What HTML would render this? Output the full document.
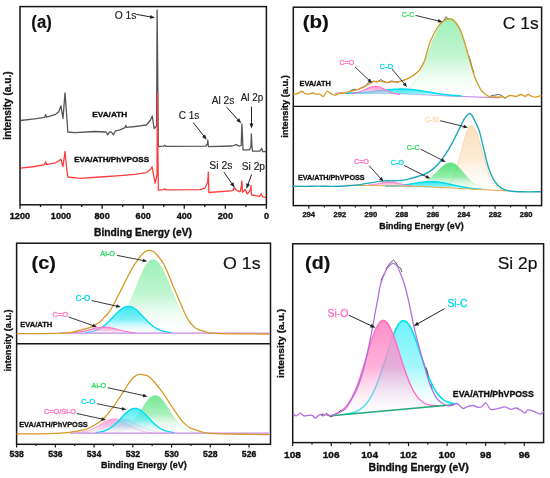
<!DOCTYPE html><html><head><meta charset="utf-8"><style>html,body{margin:0;padding:0;background:#fff;width:550px;height:478px;overflow:hidden}svg{display:block;will-change:transform}</style></head><body><svg width="550" height="478" viewBox="0 0 550 478"><defs><linearGradient id="g1" gradientUnits="userSpaceOnUse" x1="0" y1="18.2" x2="0" y2="97.5"><stop offset="0" stop-color="#a0f0b8" stop-opacity="1.0"/><stop offset="0.5" stop-color="#a0f0b8" stop-opacity="0.612"/><stop offset="1" stop-color="#ffffff" stop-opacity="0.03"/></linearGradient><linearGradient id="g2" gradientUnits="userSpaceOnUse" x1="0" y1="89.1" x2="0" y2="96.4"><stop offset="0" stop-color="#20e6f4" stop-opacity="0.85"/><stop offset="0.5" stop-color="#20e6f4" stop-opacity="0.590"/><stop offset="1" stop-color="#ffffff" stop-opacity="0.2"/></linearGradient><linearGradient id="g3" gradientUnits="userSpaceOnUse" x1="0" y1="86.4" x2="0" y2="94.7"><stop offset="0" stop-color="#ff8ccc" stop-opacity="0.85"/><stop offset="0.5" stop-color="#ff8ccc" stop-opacity="0.590"/><stop offset="1" stop-color="#ffffff" stop-opacity="0.2"/></linearGradient><linearGradient id="g4" gradientUnits="userSpaceOnUse" x1="0" y1="125.4" x2="0" y2="190.9"><stop offset="0" stop-color="#fbdfba" stop-opacity="0.95"/><stop offset="0.5" stop-color="#fbdfba" stop-opacity="0.618"/><stop offset="1" stop-color="#ffffff" stop-opacity="0.12"/></linearGradient><linearGradient id="g5" gradientUnits="userSpaceOnUse" x1="0" y1="162.7" x2="0" y2="190.5"><stop offset="0" stop-color="#58e27c" stop-opacity="1.0"/><stop offset="0.5" stop-color="#58e27c" stop-opacity="0.640"/><stop offset="1" stop-color="#ffffff" stop-opacity="0.1"/></linearGradient><linearGradient id="g6" gradientUnits="userSpaceOnUse" x1="0" y1="181.7" x2="0" y2="189.8"><stop offset="0" stop-color="#20e6f4" stop-opacity="0.85"/><stop offset="0.5" stop-color="#20e6f4" stop-opacity="0.590"/><stop offset="1" stop-color="#ffffff" stop-opacity="0.2"/></linearGradient><linearGradient id="g7" gradientUnits="userSpaceOnUse" x1="0" y1="182.0" x2="0" y2="186.3"><stop offset="0" stop-color="#ff8ccc" stop-opacity="0.85"/><stop offset="0.5" stop-color="#ff8ccc" stop-opacity="0.590"/><stop offset="1" stop-color="#ffffff" stop-opacity="0.2"/></linearGradient><linearGradient id="g8" gradientUnits="userSpaceOnUse" x1="0" y1="259.5" x2="0" y2="332.8"><stop offset="0" stop-color="#9cf0b6" stop-opacity="1.0"/><stop offset="0.5" stop-color="#9cf0b6" stop-opacity="0.608"/><stop offset="1" stop-color="#ffffff" stop-opacity="0.02"/></linearGradient><linearGradient id="g9" gradientUnits="userSpaceOnUse" x1="0" y1="306.4" x2="0" y2="333.0"><stop offset="0" stop-color="#20e6f4" stop-opacity="0.85"/><stop offset="0.5" stop-color="#20e6f4" stop-opacity="0.550"/><stop offset="1" stop-color="#ffffff" stop-opacity="0.1"/></linearGradient><linearGradient id="g10" gradientUnits="userSpaceOnUse" x1="0" y1="327.0" x2="0" y2="333.0"><stop offset="0" stop-color="#ff8ccc" stop-opacity="0.8"/><stop offset="0.5" stop-color="#ff8ccc" stop-opacity="0.560"/><stop offset="1" stop-color="#ffffff" stop-opacity="0.2"/></linearGradient><linearGradient id="g11" gradientUnits="userSpaceOnUse" x1="0" y1="395.4" x2="0" y2="433.0"><stop offset="0" stop-color="#6ee68e" stop-opacity="0.95"/><stop offset="0.5" stop-color="#6ee68e" stop-opacity="0.590"/><stop offset="1" stop-color="#ffffff" stop-opacity="0.05"/></linearGradient><linearGradient id="g12" gradientUnits="userSpaceOnUse" x1="0" y1="418.8" x2="0" y2="433.0"><stop offset="0" stop-color="#ff8ccc" stop-opacity="0.8"/><stop offset="0.5" stop-color="#ff8ccc" stop-opacity="0.540"/><stop offset="1" stop-color="#ffffff" stop-opacity="0.15"/></linearGradient><linearGradient id="g13" gradientUnits="userSpaceOnUse" x1="0" y1="419.1" x2="0" y2="433.0"><stop offset="0" stop-color="#d8cce2" stop-opacity="0.8"/><stop offset="0.5" stop-color="#d8cce2" stop-opacity="0.560"/><stop offset="1" stop-color="#ffffff" stop-opacity="0.2"/></linearGradient><linearGradient id="g14" gradientUnits="userSpaceOnUse" x1="0" y1="408.4" x2="0" y2="432.9"><stop offset="0" stop-color="#20e6f4" stop-opacity="0.75"/><stop offset="0.5" stop-color="#20e6f4" stop-opacity="0.490"/><stop offset="1" stop-color="#ffffff" stop-opacity="0.1"/></linearGradient><linearGradient id="g15" gradientUnits="userSpaceOnUse" x1="0" y1="320.7" x2="0" y2="414.2"><stop offset="0" stop-color="#40eef8" stop-opacity="0.75"/><stop offset="0.5" stop-color="#40eef8" stop-opacity="0.470"/><stop offset="1" stop-color="#ffffff" stop-opacity="0.05"/></linearGradient><linearGradient id="g16" gradientUnits="userSpaceOnUse" x1="0" y1="320.4" x2="0" y2="413.9"><stop offset="0" stop-color="#ff90ca" stop-opacity="1.0"/><stop offset="0.5" stop-color="#ff90ca" stop-opacity="0.700"/><stop offset="1" stop-color="#ffffff" stop-opacity="0.25"/></linearGradient></defs><rect width="550" height="478" fill="#fff"/>
<rect x="20.00" y="6.60" width="246.40" height="198.20" fill="none" stroke="#161616" stroke-width="1.50"/>
<line x1="20.00" y1="204.80" x2="20.00" y2="208.80" stroke="#161616" stroke-width="1.30"/>
<line x1="61.07" y1="204.80" x2="61.07" y2="208.80" stroke="#161616" stroke-width="1.30"/>
<line x1="102.13" y1="204.80" x2="102.13" y2="208.80" stroke="#161616" stroke-width="1.30"/>
<line x1="143.20" y1="204.80" x2="143.20" y2="208.80" stroke="#161616" stroke-width="1.30"/>
<line x1="184.27" y1="204.80" x2="184.27" y2="208.80" stroke="#161616" stroke-width="1.30"/>
<line x1="225.33" y1="204.80" x2="225.33" y2="208.80" stroke="#161616" stroke-width="1.30"/>
<line x1="266.40" y1="204.80" x2="266.40" y2="208.80" stroke="#161616" stroke-width="1.30"/>
<line x1="40.53" y1="204.80" x2="40.53" y2="207.00" stroke="#161616" stroke-width="1.30"/>
<line x1="81.60" y1="204.80" x2="81.60" y2="207.00" stroke="#161616" stroke-width="1.30"/>
<line x1="122.67" y1="204.80" x2="122.67" y2="207.00" stroke="#161616" stroke-width="1.30"/>
<line x1="163.73" y1="204.80" x2="163.73" y2="207.00" stroke="#161616" stroke-width="1.30"/>
<line x1="204.80" y1="204.80" x2="204.80" y2="207.00" stroke="#161616" stroke-width="1.30"/>
<line x1="245.87" y1="204.80" x2="245.87" y2="207.00" stroke="#161616" stroke-width="1.30"/>
<text x="9.80" y="219.30" font-size="9.20" font-weight="bold" fill="#111" font-family="Liberation Sans, sans-serif" textLength="20.26" lengthAdjust="spacingAndGlyphs" stroke="#111" stroke-width="0.35">1200</text>
<text x="50.87" y="219.30" font-size="9.20" font-weight="bold" fill="#111" font-family="Liberation Sans, sans-serif" textLength="20.26" lengthAdjust="spacingAndGlyphs" stroke="#111" stroke-width="0.35">1000</text>
<text x="94.57" y="219.30" font-size="9.20" font-weight="bold" fill="#111" font-family="Liberation Sans, sans-serif" textLength="15.20" lengthAdjust="spacingAndGlyphs" stroke="#111" stroke-width="0.35">800</text>
<text x="135.59" y="219.30" font-size="9.20" font-weight="bold" fill="#111" font-family="Liberation Sans, sans-serif" textLength="15.20" lengthAdjust="spacingAndGlyphs" stroke="#111" stroke-width="0.35">600</text>
<text x="176.75" y="219.30" font-size="9.20" font-weight="bold" fill="#111" font-family="Liberation Sans, sans-serif" textLength="15.20" lengthAdjust="spacingAndGlyphs" stroke="#111" stroke-width="0.35">400</text>
<text x="217.77" y="219.30" font-size="9.20" font-weight="bold" fill="#111" font-family="Liberation Sans, sans-serif" textLength="15.20" lengthAdjust="spacingAndGlyphs" stroke="#111" stroke-width="0.35">200</text>
<text x="263.90" y="219.30" font-size="9.20" font-weight="bold" fill="#111" font-family="Liberation Sans, sans-serif" textLength="5.07" lengthAdjust="spacingAndGlyphs" stroke="#111" stroke-width="0.35">0</text>
<text x="94.08" y="235.80" font-size="10.60" font-weight="bold" fill="#111" font-family="Liberation Sans, sans-serif" textLength="97.89" lengthAdjust="spacingAndGlyphs" stroke="#111" stroke-width="0.35" stroke-linejoin="round">Binding Energy (eV)</text>
<text x="0" y="0" transform="translate(11.30,139.00) rotate(-90)" font-size="10.00" font-weight="bold" fill="#111" font-family="Liberation Sans, sans-serif" textLength="68.29" lengthAdjust="spacingAndGlyphs" stroke="#111" stroke-width="0.30" dx="-0.71">intensity (a.u.)</text>
<text x="31.37" y="27.89" font-size="18.62" font-weight="bold" fill="#111" font-family="Liberation Sans, sans-serif" textLength="20.41" lengthAdjust="spacingAndGlyphs" stroke="#111" stroke-width="0.20">(a)</text>
<path d="M20.50,120.50 L34.70,118.90 L44.50,117.40 L45.60,114.70 L46.60,117.20 L55.60,114.30 L58.80,111.80 L60.90,105.90 L63.00,118.50 L65.00,92.90 L66.30,110.00 L67.80,132.00 L75.00,132.60 L95.00,131.50 L106.00,132.00 L107.70,134.80 L109.50,131.80 L111.50,132.20 L113.40,134.80 L115.50,130.80 L120.00,129.80 L125.00,127.60 L125.80,125.40 L126.60,127.40 L135.00,126.50 L140.00,125.80 L146.30,125.00 L150.50,120.00 L152.30,116.00 L154.10,128.50 L156.60,126.00 L157.10,10.00 L157.60,60.00 L158.30,146.70 L163.50,146.20 L164.70,145.20 L165.80,146.40 L205.80,146.20 L207.40,144.00 L207.80,140.10 L208.40,146.70 L232.00,146.00 L236.30,144.70 L239.10,146.10 L241.20,145.50 L241.90,124.00 L242.50,136.00 L243.00,149.80 L249.50,149.80 L250.90,147.00 L251.40,133.80 L251.90,145.00 L252.50,151.20 L259.80,151.20 L261.70,148.50 L262.70,151.70 L266.00,151.70" fill="none" stroke="#555" stroke-width="1.3" stroke-linejoin="round"/>
<path d="M20.50,168.20 L34.70,166.50 L44.50,164.60 L45.60,161.90 L46.60,164.40 L55.60,162.80 L58.80,160.70 L60.90,159.20 L63.00,166.50 L65.00,151.50 L66.30,165.00 L67.80,177.00 L80.00,178.30 L100.00,177.00 L120.00,175.60 L135.00,174.30 L146.30,172.60 L150.50,169.50 L152.10,166.80 L155.10,183.10 L157.00,175.00 L157.50,92.60 L157.90,150.00 L158.40,190.20 L163.50,189.60 L164.70,188.70 L165.80,189.80 L200.00,189.70 L205.00,188.10 L207.70,182.00 L208.30,172.20 L208.90,192.50 L233.00,190.60 L234.00,187.50 L236.70,190.30 L240.10,191.80 L241.40,186.00 L241.90,180.90 L242.50,192.20 L245.30,189.40 L247.20,194.10 L250.50,190.00 L251.00,185.60 L251.50,195.00 L259.80,196.30 L261.30,193.70 L262.70,196.90 L266.00,197.30" fill="none" stroke="#ff3c3c" stroke-width="1.3" stroke-linejoin="round"/>
<text x="92.22" y="117.30" font-size="7.83" font-weight="bold" fill="#111" font-family="Liberation Sans, sans-serif" textLength="35.06" lengthAdjust="spacingAndGlyphs" stroke="#111" stroke-width="0.35" stroke-linejoin="round">EVA/ATH</text>
<text x="74.23" y="162.30" font-size="7.10" font-weight="bold" fill="#111" font-family="Liberation Sans, sans-serif" textLength="74.81" lengthAdjust="spacingAndGlyphs" stroke="#111" stroke-width="0.35" stroke-linejoin="round">EVA/ATH/PhVPOSS</text>
<text x="114.69" y="18.50" font-size="10.20" font-weight="normal" fill="#1a1a1a" font-family="Liberation Sans, sans-serif" textLength="21.74" lengthAdjust="spacingAndGlyphs" stroke="#1a1a1a" stroke-width="0.15" stroke-linejoin="round">O 1s</text>
<line x1="136.30" y1="14.30" x2="151.07" y2="17.06" stroke="#222" stroke-width="1.00"/>
<path d="M155.00,17.80 L149.72,18.85 L150.45,14.91 Z" fill="#222"/>
<text x="178.70" y="118.90" font-size="10.20" font-weight="normal" fill="#1a1a1a" font-family="Liberation Sans, sans-serif" textLength="20.56" lengthAdjust="spacingAndGlyphs" stroke="#1a1a1a" stroke-width="0.15" stroke-linejoin="round">C 1s</text>
<line x1="193.20" y1="122.50" x2="204.23" y2="136.55" stroke="#222" stroke-width="1.00"/>
<path d="M206.70,139.70 L202.04,137.00 L205.19,134.53 Z" fill="#222"/>
<text x="211.70" y="103.50" font-size="10.20" font-weight="normal" fill="#1a1a1a" font-family="Liberation Sans, sans-serif" textLength="22.54" lengthAdjust="spacingAndGlyphs" stroke="#1a1a1a" stroke-width="0.15" stroke-linejoin="round">Al 2s</text>
<line x1="226.50" y1="107.00" x2="238.52" y2="120.33" stroke="#222" stroke-width="1.00"/>
<path d="M241.20,123.30 L236.37,120.93 L239.34,118.25 Z" fill="#222"/>
<text x="240.70" y="101.00" font-size="10.20" font-weight="normal" fill="#1a1a1a" font-family="Liberation Sans, sans-serif" textLength="22.49" lengthAdjust="spacingAndGlyphs" stroke="#1a1a1a" stroke-width="0.15" stroke-linejoin="round">Al 2p</text>
<line x1="251.50" y1="106.70" x2="251.50" y2="124.40" stroke="#222" stroke-width="1.00"/>
<path d="M251.50,128.40 L249.50,123.40 L253.50,123.40 Z" fill="#222"/>
<text x="209.38" y="168.60" font-size="10.20" font-weight="normal" fill="#1a1a1a" font-family="Liberation Sans, sans-serif" textLength="22.96" lengthAdjust="spacingAndGlyphs" stroke="#1a1a1a" stroke-width="0.15" stroke-linejoin="round">Si 2s</text>
<line x1="223.90" y1="172.10" x2="232.32" y2="184.22" stroke="#222" stroke-width="1.00"/>
<path d="M234.60,187.50 L230.10,184.54 L233.39,182.25 Z" fill="#222"/>
<text x="241.79" y="169.70" font-size="10.20" font-weight="normal" fill="#1a1a1a" font-family="Liberation Sans, sans-serif" textLength="23.21" lengthAdjust="spacingAndGlyphs" stroke="#1a1a1a" stroke-width="0.15" stroke-linejoin="round">Si 2p</text>
<line x1="251.60" y1="174.50" x2="247.78" y2="184.94" stroke="#222" stroke-width="1.00"/>
<path d="M246.40,188.70 L246.24,183.32 L250.00,184.69 Z" fill="#222"/>
<rect x="293.30" y="7.20" width="248.30" height="198.40" fill="none" stroke="#161616" stroke-width="1.50"/>
<line x1="293.3" y1="106.4" x2="541.6" y2="106.4" stroke="#161616" stroke-width="1.4"/>
<line x1="308.82" y1="205.60" x2="308.82" y2="208.80" stroke="#161616" stroke-width="1.20"/>
<line x1="339.86" y1="205.60" x2="339.86" y2="208.80" stroke="#161616" stroke-width="1.20"/>
<line x1="370.89" y1="205.60" x2="370.89" y2="208.80" stroke="#161616" stroke-width="1.20"/>
<line x1="401.93" y1="205.60" x2="401.93" y2="208.80" stroke="#161616" stroke-width="1.20"/>
<line x1="432.97" y1="205.60" x2="432.97" y2="208.80" stroke="#161616" stroke-width="1.20"/>
<line x1="464.01" y1="205.60" x2="464.01" y2="208.80" stroke="#161616" stroke-width="1.20"/>
<line x1="495.04" y1="205.60" x2="495.04" y2="208.80" stroke="#161616" stroke-width="1.20"/>
<line x1="526.08" y1="205.60" x2="526.08" y2="208.80" stroke="#161616" stroke-width="1.20"/>
<line x1="324.34" y1="205.60" x2="324.34" y2="207.40" stroke="#161616" stroke-width="1.20"/>
<line x1="355.38" y1="205.60" x2="355.38" y2="207.40" stroke="#161616" stroke-width="1.20"/>
<line x1="386.41" y1="205.60" x2="386.41" y2="207.40" stroke="#161616" stroke-width="1.20"/>
<line x1="417.45" y1="205.60" x2="417.45" y2="207.40" stroke="#161616" stroke-width="1.20"/>
<line x1="448.49" y1="205.60" x2="448.49" y2="207.40" stroke="#161616" stroke-width="1.20"/>
<line x1="479.53" y1="205.60" x2="479.53" y2="207.40" stroke="#161616" stroke-width="1.20"/>
<line x1="510.56" y1="205.60" x2="510.56" y2="207.40" stroke="#161616" stroke-width="1.20"/>
<text x="302.40" y="216.70" font-size="8.00" font-weight="bold" fill="#111" font-family="Liberation Sans, sans-serif" textLength="12.68" lengthAdjust="spacingAndGlyphs" stroke="#111" stroke-width="0.35">294</text>
<text x="333.55" y="216.70" font-size="8.00" font-weight="bold" fill="#111" font-family="Liberation Sans, sans-serif" textLength="12.68" lengthAdjust="spacingAndGlyphs" stroke="#111" stroke-width="0.35">292</text>
<text x="364.59" y="216.70" font-size="8.00" font-weight="bold" fill="#111" font-family="Liberation Sans, sans-serif" textLength="12.68" lengthAdjust="spacingAndGlyphs" stroke="#111" stroke-width="0.35">290</text>
<text x="395.59" y="216.70" font-size="8.00" font-weight="bold" fill="#111" font-family="Liberation Sans, sans-serif" textLength="12.68" lengthAdjust="spacingAndGlyphs" stroke="#111" stroke-width="0.35">288</text>
<text x="426.66" y="216.70" font-size="8.00" font-weight="bold" fill="#111" font-family="Liberation Sans, sans-serif" textLength="12.68" lengthAdjust="spacingAndGlyphs" stroke="#111" stroke-width="0.35">286</text>
<text x="457.58" y="216.70" font-size="8.00" font-weight="bold" fill="#111" font-family="Liberation Sans, sans-serif" textLength="12.68" lengthAdjust="spacingAndGlyphs" stroke="#111" stroke-width="0.35">284</text>
<text x="488.74" y="216.70" font-size="8.00" font-weight="bold" fill="#111" font-family="Liberation Sans, sans-serif" textLength="12.68" lengthAdjust="spacingAndGlyphs" stroke="#111" stroke-width="0.35">282</text>
<text x="519.77" y="216.70" font-size="8.00" font-weight="bold" fill="#111" font-family="Liberation Sans, sans-serif" textLength="12.68" lengthAdjust="spacingAndGlyphs" stroke="#111" stroke-width="0.35">280</text>
<text x="379.28" y="228.90" font-size="9.50" font-weight="bold" fill="#111" font-family="Liberation Sans, sans-serif" textLength="84.33" lengthAdjust="spacingAndGlyphs" stroke="#111" stroke-width="0.35" stroke-linejoin="round">Binding Energy (eV)</text>
<text x="0" y="0" transform="translate(288.40,137.10) rotate(-90)" font-size="9.20" font-weight="bold" fill="#111" font-family="Liberation Sans, sans-serif" textLength="62.49" lengthAdjust="spacingAndGlyphs" stroke="#111" stroke-width="0.30" dx="-0.65">intensity (a.u.)</text>
<text x="302.77" y="28.44" font-size="18.40" font-weight="bold" fill="#111" font-family="Liberation Sans, sans-serif" textLength="26.19" lengthAdjust="spacingAndGlyphs" stroke="#111" stroke-width="0.20">(b)</text>
<text x="502.73" y="28.70" font-size="17.30" font-weight="normal" fill="#111" font-family="Liberation Sans, sans-serif" textLength="35.91" lengthAdjust="spacingAndGlyphs" stroke="#111" stroke-width="0.20" stroke-linejoin="round">C 1s</text>
<path d="M335.00,93.20 L400.00,93.50 L449.00,96.00 L495.00,97.60 L500.00,97.60" fill="none" stroke="#c58be8" stroke-width="1.2"/>
<path d="M400.00,92.11 L400.50,92.00 L401.00,91.88 L401.50,91.75 L402.00,91.61 L402.50,91.45 L403.00,91.29 L403.50,91.11 L404.00,90.91 L404.50,90.70 L405.00,90.47 L405.50,90.23 L406.00,89.96 L406.50,89.68 L407.00,89.38 L407.50,89.06 L408.00,88.72 L408.50,88.36 L409.00,87.98 L409.50,87.57 L410.00,87.13 L410.50,86.68 L411.00,86.19 L411.50,85.69 L412.00,85.15 L412.50,84.59 L413.00,83.99 L413.50,83.37 L414.00,82.72 L414.50,82.05 L415.00,81.34 L415.50,80.60 L416.00,79.83 L416.50,79.03 L417.00,78.20 L417.50,77.34 L418.00,76.44 L418.50,75.52 L419.00,74.57 L419.50,73.59 L420.00,72.57 L420.50,71.53 L421.00,70.47 L421.50,69.37 L422.00,68.25 L422.50,67.10 L423.00,65.93 L423.50,64.74 L424.00,63.52 L424.50,62.28 L425.00,61.03 L425.50,59.76 L426.00,58.47 L426.50,57.17 L427.00,55.86 L427.50,54.53 L428.00,53.20 L428.50,51.87 L429.00,50.53 L429.50,49.19 L430.00,47.85 L430.50,46.51 L431.00,45.18 L431.50,43.86 L432.00,42.55 L432.50,41.26 L433.00,39.98 L433.50,38.71 L434.00,37.47 L434.50,36.25 L435.00,35.06 L435.50,33.89 L436.00,32.75 L436.50,31.64 L437.00,30.57 L437.50,29.54 L438.00,28.54 L438.50,27.58 L439.00,26.66 L439.50,25.79 L440.00,24.95 L440.50,24.17 L441.00,23.43 L441.50,22.74 L442.00,22.10 L442.50,21.50 L443.00,20.96 L443.50,20.47 L444.00,20.02 L444.50,19.63 L445.00,19.29 L445.50,18.99 L446.00,18.75 L446.50,18.55 L447.00,18.40 L447.50,18.30 L448.00,18.23 L448.50,18.21 L449.00,18.21 L449.50,18.24 L450.00,18.27 L450.50,18.33 L451.00,18.41 L451.50,18.52 L452.00,18.66 L452.50,18.84 L453.00,19.07 L453.50,19.35 L454.00,19.68 L454.50,20.06 L455.00,20.50 L455.50,21.00 L456.00,21.57 L456.50,22.20 L457.00,22.90 L457.50,23.67 L458.00,24.50 L458.50,25.41 L459.00,26.39 L459.50,27.44 L460.00,28.55 L460.50,29.74 L461.00,30.99 L461.50,32.31 L462.00,33.69 L462.50,35.13 L463.00,36.63 L463.50,38.18 L464.00,39.78 L464.50,41.42 L465.00,43.11 L465.50,44.83 L466.00,46.58 L466.50,48.36 L467.00,50.16 L467.50,51.97 L468.00,53.80 L468.50,55.63 L469.00,57.46 L469.50,59.28 L470.00,61.09 L470.50,62.88 L471.00,64.65 L471.50,66.39 L472.00,68.10 L472.50,69.77 L473.00,71.41 L473.50,73.00 L474.00,74.54 L474.50,76.03 L475.00,77.47 L475.50,78.86 L476.00,80.19 L476.50,81.46 L477.00,82.67 L477.50,83.82 L478.00,84.91 L478.50,85.94 L479.00,86.91 L479.50,87.83 L480.00,88.68 L480.50,89.48 L481.00,90.22 L481.50,90.92 L482.00,91.56 L482.50,92.15 L483.00,92.69 L483.50,93.19 L484.00,93.65 L484.50,94.07 L485.00,94.45 L485.50,94.79 L486.00,95.11 L486.50,95.39 L487.00,95.65 L487.50,95.88 L488.00,96.09 L488.50,96.27 L489.00,96.44 L489.50,96.59 L490.00,96.72 L490.50,96.84 L491.00,96.94 L491.50,97.04 L492.00,97.12 L492.50,97.20 L493.00,97.27 L493.50,97.33 L494.00,97.39 L494.50,97.44 L495.00,97.48 L495.00,97.60 L400.00,93.50 Z" fill="url(#g1)"/>
<path d="M400.00,92.11 L400.50,92.00 L401.00,91.88 L401.50,91.75 L402.00,91.61 L402.50,91.45 L403.00,91.29 L403.50,91.11 L404.00,90.91 L404.50,90.70 L405.00,90.47 L405.50,90.23 L406.00,89.96 L406.50,89.68 L407.00,89.38 L407.50,89.06 L408.00,88.72 L408.50,88.36 L409.00,87.98 L409.50,87.57 L410.00,87.13 L410.50,86.68 L411.00,86.19 L411.50,85.69 L412.00,85.15 L412.50,84.59 L413.00,83.99 L413.50,83.37 L414.00,82.72 L414.50,82.05 L415.00,81.34 L415.50,80.60 L416.00,79.83 L416.50,79.03 L417.00,78.20 L417.50,77.34 L418.00,76.44 L418.50,75.52 L419.00,74.57 L419.50,73.59 L420.00,72.57 L420.50,71.53 L421.00,70.47 L421.50,69.37 L422.00,68.25 L422.50,67.10 L423.00,65.93 L423.50,64.74 L424.00,63.52 L424.50,62.28 L425.00,61.03 L425.50,59.76 L426.00,58.47 L426.50,57.17 L427.00,55.86 L427.50,54.53 L428.00,53.20 L428.50,51.87 L429.00,50.53 L429.50,49.19 L430.00,47.85 L430.50,46.51 L431.00,45.18 L431.50,43.86 L432.00,42.55 L432.50,41.26 L433.00,39.98 L433.50,38.71 L434.00,37.47 L434.50,36.25 L435.00,35.06 L435.50,33.89 L436.00,32.75 L436.50,31.64 L437.00,30.57 L437.50,29.54 L438.00,28.54 L438.50,27.58 L439.00,26.66 L439.50,25.79 L440.00,24.95 L440.50,24.17 L441.00,23.43 L441.50,22.74 L442.00,22.10 L442.50,21.50 L443.00,20.96 L443.50,20.47 L444.00,20.02 L444.50,19.63 L445.00,19.29 L445.50,18.99 L446.00,18.75 L446.50,18.55 L447.00,18.40 L447.50,18.30 L448.00,18.23 L448.50,18.21 L449.00,18.21 L449.50,18.24 L450.00,18.27 L450.50,18.33 L451.00,18.41 L451.50,18.52 L452.00,18.66 L452.50,18.84 L453.00,19.07 L453.50,19.35 L454.00,19.68 L454.50,20.06 L455.00,20.50 L455.50,21.00 L456.00,21.57 L456.50,22.20 L457.00,22.90 L457.50,23.67 L458.00,24.50 L458.50,25.41 L459.00,26.39 L459.50,27.44 L460.00,28.55 L460.50,29.74 L461.00,30.99 L461.50,32.31 L462.00,33.69 L462.50,35.13 L463.00,36.63 L463.50,38.18 L464.00,39.78 L464.50,41.42 L465.00,43.11 L465.50,44.83 L466.00,46.58 L466.50,48.36 L467.00,50.16 L467.50,51.97 L468.00,53.80 L468.50,55.63 L469.00,57.46 L469.50,59.28 L470.00,61.09 L470.50,62.88 L471.00,64.65 L471.50,66.39 L472.00,68.10 L472.50,69.77 L473.00,71.41 L473.50,73.00 L474.00,74.54 L474.50,76.03 L475.00,77.47 L475.50,78.86 L476.00,80.19 L476.50,81.46 L477.00,82.67 L477.50,83.82 L478.00,84.91 L478.50,85.94 L479.00,86.91 L479.50,87.83 L480.00,88.68 L480.50,89.48 L481.00,90.22 L481.50,90.92 L482.00,91.56 L482.50,92.15 L483.00,92.69 L483.50,93.19 L484.00,93.65 L484.50,94.07 L485.00,94.45 L485.50,94.79 L486.00,95.11 L486.50,95.39 L487.00,95.65 L487.50,95.88 L488.00,96.09 L488.50,96.27 L489.00,96.44 L489.50,96.59 L490.00,96.72 L490.50,96.84 L491.00,96.94 L491.50,97.04 L492.00,97.12" fill="none" stroke="#8ee89a" stroke-width="0.60" stroke-opacity="0.50" stroke-linejoin="round"/>
<path d="M340.00,93.16 L340.50,93.16 L341.00,93.16 L341.50,93.16 L342.00,93.17 L342.50,93.17 L343.00,93.17 L343.50,93.17 L344.00,93.17 L344.50,93.16 L345.00,93.16 L345.50,93.16 L346.00,93.16 L346.50,93.15 L347.00,93.15 L347.50,93.14 L348.00,93.14 L348.50,93.13 L349.00,93.12 L349.50,93.12 L350.00,93.11 L350.50,93.10 L351.00,93.09 L351.50,93.08 L352.00,93.06 L352.50,93.05 L353.00,93.04 L353.50,93.02 L354.00,93.00 L354.50,92.99 L355.00,92.97 L355.50,92.95 L356.00,92.93 L356.50,92.91 L357.00,92.89 L357.50,92.86 L358.00,92.84 L358.50,92.82 L359.00,92.79 L359.50,92.76 L360.00,92.73 L360.50,92.70 L361.00,92.67 L361.50,92.64 L362.00,92.61 L362.50,92.57 L363.00,92.54 L363.50,92.50 L364.00,92.47 L364.50,92.43 L365.00,92.39 L365.50,92.35 L366.00,92.31 L366.50,92.26 L367.00,92.22 L367.50,92.17 L368.00,92.13 L368.50,92.08 L369.00,92.03 L369.50,91.98 L370.00,91.93 L370.50,91.88 L371.00,91.83 L371.50,91.78 L372.00,91.72 L372.50,91.67 L373.00,91.61 L373.50,91.56 L374.00,91.50 L374.50,91.45 L375.00,91.39 L375.50,91.33 L376.00,91.27 L376.50,91.21 L377.00,91.15 L377.50,91.09 L378.00,91.03 L378.50,90.97 L379.00,90.91 L379.50,90.85 L380.00,90.79 L380.50,90.73 L381.00,90.67 L381.50,90.60 L382.00,90.54 L382.50,90.48 L383.00,90.42 L383.50,90.36 L384.00,90.30 L384.50,90.25 L385.00,90.19 L385.50,90.13 L386.00,90.07 L386.50,90.02 L387.00,89.96 L387.50,89.91 L388.00,89.86 L388.50,89.81 L389.00,89.76 L389.50,89.71 L390.00,89.66 L390.50,89.61 L391.00,89.57 L391.50,89.52 L392.00,89.48 L392.50,89.44 L393.00,89.40 L393.50,89.37 L394.00,89.33 L394.50,89.30 L395.00,89.27 L395.50,89.24 L396.00,89.21 L396.50,89.19 L397.00,89.16 L397.50,89.14 L398.00,89.13 L398.50,89.11 L399.00,89.10 L399.50,89.09 L400.00,89.08 L400.50,89.07 L401.00,89.07 L401.50,89.06 L402.00,89.07 L402.50,89.07 L403.00,89.08 L403.50,89.08 L404.00,89.09 L404.50,89.11 L405.00,89.12 L405.50,89.14 L406.00,89.16 L406.50,89.19 L407.00,89.21 L407.50,89.24 L408.00,89.27 L408.50,89.31 L409.00,89.34 L409.50,89.38 L410.00,89.42 L410.50,89.46 L411.00,89.51 L411.50,89.56 L412.00,89.60 L412.50,89.66 L413.00,89.71 L413.50,89.77 L414.00,89.82 L414.50,89.88 L415.00,89.94 L415.50,90.01 L416.00,90.07 L416.50,90.14 L417.00,90.21 L417.50,90.27 L418.00,90.35 L418.50,90.42 L419.00,90.49 L419.50,90.57 L420.00,90.64 L420.50,90.72 L421.00,90.80 L421.50,90.88 L422.00,90.96 L422.50,91.04 L423.00,91.12 L423.50,91.20 L424.00,91.29 L424.50,91.37 L425.00,91.46 L425.50,91.54 L426.00,91.62 L426.50,91.71 L427.00,91.80 L427.50,91.88 L428.00,91.97 L428.50,92.05 L429.00,92.14 L429.50,92.22 L430.00,92.31 L430.50,92.39 L431.00,92.48 L431.50,92.56 L432.00,92.65 L432.50,92.73 L433.00,92.81 L433.50,92.89 L434.00,92.98 L434.50,93.06 L435.00,93.14 L435.50,93.22 L436.00,93.30 L436.50,93.37 L437.00,93.45 L437.50,93.53 L438.00,93.60 L438.50,93.68 L439.00,93.75 L439.50,93.82 L440.00,93.90 L440.50,93.97 L441.00,94.04 L441.50,94.10 L442.00,94.17 L442.50,94.24 L443.00,94.30 L443.50,94.37 L444.00,94.43 L444.50,94.49 L445.00,94.55 L445.50,94.61 L446.00,94.67 L446.50,94.73 L447.00,94.79 L447.50,94.84 L448.00,94.90 L448.50,94.95 L449.00,95.00 L449.50,95.05 L450.00,95.10 L450.50,95.15 L451.00,95.20 L451.50,95.24 L452.00,95.29 L452.50,95.33 L453.00,95.38 L453.50,95.42 L454.00,95.46 L454.50,95.50 L455.00,95.54 L455.50,95.58 L456.00,95.62 L456.50,95.65 L457.00,95.69 L457.50,95.73 L458.00,95.76 L458.50,95.79 L459.00,95.83 L459.50,95.86 L460.00,95.89 L460.50,95.92 L461.00,95.95 L461.50,95.98 L462.00,96.01 L462.50,96.03 L463.00,96.06 L463.50,96.09 L464.00,96.11 L464.50,96.14 L465.00,96.16 L465.50,96.19 L466.00,96.21 L466.50,96.23 L467.00,96.26 L467.50,96.28 L468.00,96.30 L468.50,96.32 L469.00,96.34 L469.50,96.36 L470.00,96.38 L470.00,96.52 L340.00,93.32 Z" fill="url(#g2)"/>
<path d="M346.00,93.16 L346.50,93.15 L347.00,93.15 L347.50,93.14 L348.00,93.14 L348.50,93.13 L349.00,93.12 L349.50,93.12 L350.00,93.11 L350.50,93.10 L351.00,93.09 L351.50,93.08 L352.00,93.06 L352.50,93.05 L353.00,93.04 L353.50,93.02 L354.00,93.00 L354.50,92.99 L355.00,92.97 L355.50,92.95 L356.00,92.93 L356.50,92.91 L357.00,92.89 L357.50,92.86 L358.00,92.84 L358.50,92.82 L359.00,92.79 L359.50,92.76 L360.00,92.73 L360.50,92.70 L361.00,92.67 L361.50,92.64 L362.00,92.61 L362.50,92.57 L363.00,92.54 L363.50,92.50 L364.00,92.47 L364.50,92.43 L365.00,92.39 L365.50,92.35 L366.00,92.31 L366.50,92.26 L367.00,92.22 L367.50,92.17 L368.00,92.13 L368.50,92.08 L369.00,92.03 L369.50,91.98 L370.00,91.93 L370.50,91.88 L371.00,91.83 L371.50,91.78 L372.00,91.72 L372.50,91.67 L373.00,91.61 L373.50,91.56 L374.00,91.50 L374.50,91.45 L375.00,91.39 L375.50,91.33 L376.00,91.27 L376.50,91.21 L377.00,91.15 L377.50,91.09 L378.00,91.03 L378.50,90.97 L379.00,90.91 L379.50,90.85 L380.00,90.79 L380.50,90.73 L381.00,90.67 L381.50,90.60 L382.00,90.54 L382.50,90.48 L383.00,90.42 L383.50,90.36 L384.00,90.30 L384.50,90.25 L385.00,90.19 L385.50,90.13 L386.00,90.07 L386.50,90.02 L387.00,89.96 L387.50,89.91 L388.00,89.86 L388.50,89.81 L389.00,89.76 L389.50,89.71 L390.00,89.66 L390.50,89.61 L391.00,89.57 L391.50,89.52 L392.00,89.48 L392.50,89.44 L393.00,89.40 L393.50,89.37 L394.00,89.33 L394.50,89.30 L395.00,89.27 L395.50,89.24 L396.00,89.21 L396.50,89.19 L397.00,89.16 L397.50,89.14 L398.00,89.13 L398.50,89.11 L399.00,89.10 L399.50,89.09 L400.00,89.08 L400.50,89.07 L401.00,89.07 L401.50,89.06 L402.00,89.07 L402.50,89.07 L403.00,89.08 L403.50,89.08 L404.00,89.09 L404.50,89.11 L405.00,89.12 L405.50,89.14 L406.00,89.16 L406.50,89.19 L407.00,89.21 L407.50,89.24 L408.00,89.27 L408.50,89.31 L409.00,89.34 L409.50,89.38 L410.00,89.42 L410.50,89.46 L411.00,89.51 L411.50,89.56 L412.00,89.60 L412.50,89.66 L413.00,89.71 L413.50,89.77 L414.00,89.82 L414.50,89.88 L415.00,89.94 L415.50,90.01 L416.00,90.07 L416.50,90.14 L417.00,90.21 L417.50,90.27 L418.00,90.35 L418.50,90.42 L419.00,90.49 L419.50,90.57 L420.00,90.64 L420.50,90.72 L421.00,90.80 L421.50,90.88 L422.00,90.96 L422.50,91.04 L423.00,91.12 L423.50,91.20 L424.00,91.29 L424.50,91.37 L425.00,91.46 L425.50,91.54 L426.00,91.62 L426.50,91.71 L427.00,91.80 L427.50,91.88 L428.00,91.97 L428.50,92.05 L429.00,92.14 L429.50,92.22 L430.00,92.31 L430.50,92.39 L431.00,92.48 L431.50,92.56 L432.00,92.65 L432.50,92.73 L433.00,92.81 L433.50,92.89 L434.00,92.98 L434.50,93.06 L435.00,93.14 L435.50,93.22 L436.00,93.30 L436.50,93.37 L437.00,93.45 L437.50,93.53 L438.00,93.60 L438.50,93.68 L439.00,93.75 L439.50,93.82 L440.00,93.90 L440.50,93.97 L441.00,94.04 L441.50,94.10 L442.00,94.17 L442.50,94.24 L443.00,94.30 L443.50,94.37 L444.00,94.43 L444.50,94.49 L445.00,94.55 L445.50,94.61 L446.00,94.67 L446.50,94.73 L447.00,94.79 L447.50,94.84 L448.00,94.90 L448.50,94.95 L449.00,95.00 L449.50,95.05 L450.00,95.10 L450.50,95.15 L451.00,95.20 L451.50,95.24 L452.00,95.29 L452.50,95.33 L453.00,95.38 L453.50,95.42 L454.00,95.46 L454.50,95.50 L455.00,95.54 L455.50,95.58 L456.00,95.62 L456.50,95.65 L457.00,95.69 L457.50,95.73 L458.00,95.76 L458.50,95.79 L459.00,95.83 L459.50,95.86 L460.00,95.89 L460.50,95.92 L461.00,95.95 L461.50,95.98 L462.00,96.01" fill="none" stroke="#00dcf2" stroke-width="1.50" stroke-opacity="1.00" stroke-linejoin="round"/>
<path d="M350.00,93.32 L350.50,93.30 L351.00,93.27 L351.50,93.24 L352.00,93.20 L352.50,93.16 L353.00,93.11 L353.50,93.06 L354.00,93.00 L354.50,92.93 L355.00,92.86 L355.50,92.77 L356.00,92.68 L356.50,92.58 L357.00,92.47 L357.50,92.36 L358.00,92.23 L358.50,92.10 L359.00,91.95 L359.50,91.80 L360.00,91.64 L360.50,91.47 L361.00,91.29 L361.50,91.10 L362.00,90.90 L362.50,90.70 L363.00,90.49 L363.50,90.27 L364.00,90.05 L364.50,89.82 L365.00,89.60 L365.50,89.36 L366.00,89.13 L366.50,88.90 L367.00,88.67 L367.50,88.45 L368.00,88.23 L368.50,88.01 L369.00,87.80 L369.50,87.61 L370.00,87.42 L370.50,87.24 L371.00,87.08 L371.50,86.93 L372.00,86.80 L372.50,86.69 L373.00,86.59 L373.50,86.51 L374.00,86.45 L374.50,86.41 L375.00,86.39 L375.50,86.39 L376.00,86.42 L376.50,86.46 L377.00,86.52 L377.50,86.61 L378.00,86.71 L378.50,86.83 L379.00,86.97 L379.50,87.13 L380.00,87.30 L380.50,87.49 L381.00,87.69 L381.50,87.90 L382.00,88.12 L382.50,88.35 L383.00,88.59 L383.50,88.84 L384.00,89.09 L384.50,89.34 L385.00,89.60 L385.50,89.86 L386.00,90.11 L386.50,90.36 L387.00,90.61 L387.50,90.86 L388.00,91.10 L388.50,91.34 L389.00,91.56 L389.50,91.79 L390.00,92.00 L390.50,92.20 L391.00,92.40 L391.50,92.59 L392.00,92.76 L392.50,92.93 L393.00,93.09 L393.50,93.24 L394.00,93.38 L394.50,93.52 L395.00,93.64 L395.50,93.75 L396.00,93.86 L396.50,93.96 L397.00,94.05 L397.50,94.14 L398.00,94.22 L398.50,94.29 L399.00,94.36 L399.50,94.42 L400.00,94.48 L400.50,94.53 L401.00,94.57 L401.50,94.62 L402.00,94.66 L402.00,94.85 L350.00,93.57 Z" fill="url(#g3)"/>
<path d="M351.00,93.27 L351.50,93.24 L352.00,93.20 L352.50,93.16 L353.00,93.11 L353.50,93.06 L354.00,93.00 L354.50,92.93 L355.00,92.86 L355.50,92.77 L356.00,92.68 L356.50,92.58 L357.00,92.47 L357.50,92.36 L358.00,92.23 L358.50,92.10 L359.00,91.95 L359.50,91.80 L360.00,91.64 L360.50,91.47 L361.00,91.29 L361.50,91.10 L362.00,90.90 L362.50,90.70 L363.00,90.49 L363.50,90.27 L364.00,90.05 L364.50,89.82 L365.00,89.60 L365.50,89.36 L366.00,89.13 L366.50,88.90 L367.00,88.67 L367.50,88.45 L368.00,88.23 L368.50,88.01 L369.00,87.80 L369.50,87.61 L370.00,87.42 L370.50,87.24 L371.00,87.08 L371.50,86.93 L372.00,86.80 L372.50,86.69 L373.00,86.59 L373.50,86.51 L374.00,86.45 L374.50,86.41 L375.00,86.39 L375.50,86.39 L376.00,86.42 L376.50,86.46 L377.00,86.52 L377.50,86.61 L378.00,86.71 L378.50,86.83 L379.00,86.97 L379.50,87.13 L380.00,87.30 L380.50,87.49 L381.00,87.69 L381.50,87.90 L382.00,88.12 L382.50,88.35 L383.00,88.59 L383.50,88.84 L384.00,89.09 L384.50,89.34 L385.00,89.60 L385.50,89.86 L386.00,90.11 L386.50,90.36 L387.00,90.61 L387.50,90.86 L388.00,91.10 L388.50,91.34 L389.00,91.56 L389.50,91.79 L390.00,92.00 L390.50,92.20 L391.00,92.40 L391.50,92.59 L392.00,92.76 L392.50,92.93 L393.00,93.09 L393.50,93.24 L394.00,93.38 L394.50,93.52 L395.00,93.64 L395.50,93.75 L396.00,93.86 L396.50,93.96 L397.00,94.05 L397.50,94.14 L398.00,94.22 L398.50,94.29 L399.00,94.36 L399.50,94.42 L400.00,94.48" fill="none" stroke="#ff6ec4" stroke-width="1.10" stroke-opacity="1.00" stroke-linejoin="round"/>
<path d="M350.00,90.60 L354.50,89.20 L358.00,89.80 L362.00,87.50 L366.00,86.00 L368.20,82.70 L371.00,82.60 L374.00,81.00 L377.00,82.20 L380.90,79.50 L384.00,81.50 L387.00,82.80 L391.80,80.90 L395.00,82.00 L398.00,82.30 L401.00,80.80 L405.00,80.20" fill="none" stroke="#666" stroke-width="1.0" stroke-linejoin="round"/>
<path d="M443.50,21.00 L446.20,16.60 L448.50,19.50" fill="none" stroke="#666" stroke-width="1.0" stroke-linejoin="round"/>
<path d="M468.50,55.00 L470.50,61.00 L472.00,67.50 L474.00,72.50" fill="none" stroke="#666" stroke-width="1.0" stroke-linejoin="round"/>
<path d="M490.00,96.50 L492.00,95.50 L499.00,94.50 L502.00,95.50 L505.00,98.50 L507.50,96.50" fill="none" stroke="#666" stroke-width="1.0" stroke-linejoin="round"/>
<path d="M293.30,94.10 C294.00,94.02 296.05,94.03 297.50,93.60 C298.95,93.17 300.50,91.42 302.00,91.50 C303.50,91.58 304.68,93.85 306.50,94.10 C308.32,94.35 311.23,92.97 312.90,93.00 C314.57,93.03 315.43,94.15 316.50,94.30 C317.57,94.45 318.15,93.55 319.30,93.90 C320.45,94.25 322.12,96.80 323.40,96.40 C324.68,96.00 325.72,91.97 327.00,91.50 C328.28,91.03 329.82,92.98 331.10,93.60 C332.38,94.22 333.48,95.20 334.70,95.20 C335.92,95.20 337.18,93.97 338.40,93.60 C339.62,93.23 340.90,93.17 342.00,93.00 C343.10,92.83 343.67,92.87 345.00,92.60 C346.33,92.33 347.65,91.98 350.00,91.40 C352.35,90.82 356.07,90.25 359.10,89.10 C362.13,87.95 365.93,85.72 368.20,84.50 C370.47,83.28 371.18,82.32 372.70,81.80 C374.22,81.28 375.78,81.47 377.30,81.40 C378.82,81.33 380.28,81.25 381.80,81.40 C383.32,81.55 384.88,82.23 386.40,82.30 C387.92,82.37 389.47,81.88 390.90,81.80 C392.33,81.72 393.48,81.87 395.00,81.80 C396.52,81.73 398.03,81.85 400.00,81.40 C401.97,80.95 404.60,80.08 406.80,79.10 C409.00,78.12 411.08,77.02 413.20,75.50 C415.32,73.98 417.62,72.45 419.50,70.00 C421.38,67.55 422.73,65.47 424.50,60.80 C426.27,56.13 427.90,47.63 430.10,42.00 C432.30,36.37 435.38,30.58 437.70,27.00 C440.02,23.42 442.13,21.90 444.00,20.50 C445.87,19.10 447.32,18.60 448.90,18.60 C450.48,18.60 452.02,19.32 453.50,20.50 C454.98,21.68 456.48,23.65 457.80,25.70 C459.12,27.75 460.22,29.83 461.40,32.80 C462.58,35.77 463.72,39.63 464.90,43.50 C466.08,47.37 467.32,51.85 468.50,56.00 C469.68,60.15 470.82,64.55 472.00,68.40 C473.18,72.25 474.10,75.53 475.60,79.10 C477.10,82.67 478.92,86.98 481.00,89.80 C483.08,92.62 485.77,94.80 488.10,96.00 C490.43,97.20 492.52,96.83 495.00,97.00 C497.48,97.17 501.33,96.83 503.00,97.00 C504.67,97.17 503.83,98.25 505.00,98.00 C506.17,97.75 508.17,95.75 510.00,95.50 C511.83,95.25 514.17,96.67 516.00,96.50 C517.83,96.33 519.50,94.50 521.00,94.50 C522.50,94.50 523.83,96.50 525.00,96.50 C526.17,96.50 526.83,94.50 528.00,94.50 C529.17,94.50 530.67,96.08 532.00,96.50 C533.33,96.92 534.42,97.17 536.00,97.00 C537.58,96.83 540.58,95.75 541.50,95.50" fill="none" stroke="#d69a26" stroke-width="1.3"/>
<text x="299.59" y="85.50" font-size="6.81" font-weight="bold" fill="#111" font-family="Liberation Sans, sans-serif" textLength="31.13" lengthAdjust="spacingAndGlyphs" stroke="#111" stroke-width="0.30" stroke-linejoin="round">EVA/ATH</text>
<text x="339.55" y="65.00" font-size="7.10" font-weight="normal" fill="#ff72c2" font-family="Liberation Sans, sans-serif" textLength="14.53" lengthAdjust="spacingAndGlyphs" stroke="#ff72c2" stroke-width="0.35" stroke-linejoin="round">C=O</text>
<line x1="355.00" y1="67.00" x2="369.45" y2="80.60" stroke="#222" stroke-width="0.90"/>
<path d="M372.00,83.00 L367.49,81.23 L369.96,78.61 Z" fill="#222"/>
<text x="379.74" y="69.20" font-size="7.10" font-weight="normal" fill="#08d8f0" font-family="Liberation Sans, sans-serif" textLength="13.35" lengthAdjust="spacingAndGlyphs" stroke="#08d8f0" stroke-width="0.35" stroke-linejoin="round">C-O</text>
<line x1="392.00" y1="69.00" x2="404.76" y2="84.31" stroke="#222" stroke-width="0.90"/>
<path d="M407.00,87.00 L402.74,84.70 L405.50,82.39 Z" fill="#222"/>
<text x="401.64" y="16.50" font-size="7.39" font-weight="normal" fill="#3ade6c" font-family="Liberation Sans, sans-serif" textLength="12.91" lengthAdjust="spacingAndGlyphs" stroke="#3ade6c" stroke-width="0.35" stroke-linejoin="round">C-C</text>
<line x1="415.50" y1="15.40" x2="439.10" y2="21.08" stroke="#222" stroke-width="0.90"/>
<path d="M442.50,21.90 L437.70,22.60 L438.55,19.10 Z" fill="#222"/>
<path d="M440.00,188.55 L440.50,188.49 L441.00,188.41 L441.50,188.33 L442.00,188.23 L442.50,188.11 L443.00,187.97 L443.50,187.82 L444.00,187.64 L444.50,187.44 L445.00,187.22 L445.50,186.96 L446.00,186.67 L446.50,186.35 L447.00,185.99 L447.50,185.59 L448.00,185.15 L448.50,184.66 L449.00,184.13 L449.50,183.54 L450.00,182.89 L450.50,182.19 L451.00,181.43 L451.50,180.60 L452.00,179.71 L452.50,178.75 L453.00,177.72 L453.50,176.62 L454.00,175.45 L454.50,174.21 L455.00,172.89 L455.50,171.51 L456.00,170.05 L456.50,168.53 L457.00,166.94 L457.50,165.29 L458.00,163.58 L458.50,161.82 L459.00,160.01 L459.50,158.16 L460.00,156.28 L460.50,154.36 L461.00,152.43 L461.50,150.49 L462.00,148.55 L462.50,146.62 L463.00,144.71 L463.50,142.83 L464.00,141.00 L464.50,139.22 L465.00,137.50 L465.50,135.85 L466.00,134.30 L466.50,132.84 L467.00,131.48 L467.50,130.24 L468.00,129.13 L468.50,128.15 L469.00,127.31 L469.50,126.62 L470.00,126.08 L470.50,125.69 L471.00,125.47 L471.50,125.40 L472.00,125.49 L472.50,125.73 L473.00,126.11 L473.50,126.64 L474.00,127.31 L474.50,128.11 L475.00,129.05 L475.50,130.11 L476.00,131.29 L476.50,132.58 L477.00,133.97 L477.50,135.46 L478.00,137.03 L478.50,138.67 L479.00,140.38 L479.50,142.15 L480.00,143.96 L480.50,145.80 L481.00,147.67 L481.50,149.56 L482.00,151.45 L482.50,153.35 L483.00,155.23 L483.50,157.09 L484.00,158.93 L484.50,160.74 L485.00,162.51 L485.50,164.23 L486.00,165.91 L486.50,167.53 L487.00,169.10 L487.50,170.61 L488.00,172.05 L488.50,173.43 L489.00,174.74 L489.50,175.99 L490.00,177.17 L490.50,178.29 L491.00,179.34 L491.50,180.32 L492.00,181.24 L492.50,182.10 L493.00,182.90 L493.50,183.64 L494.00,184.33 L494.50,184.97 L495.00,185.55 L495.50,186.09 L496.00,186.58 L496.50,187.03 L497.00,187.44 L497.50,187.81 L498.00,188.15 L498.50,188.45 L499.00,188.73 L499.50,188.98 L500.00,189.20 L500.50,189.41 L501.00,189.59 L501.50,189.75 L502.00,189.90 L502.50,190.03 L503.00,190.14 L503.50,190.25 L504.00,190.34 L504.50,190.42 L505.00,190.50 L505.50,190.56 L506.00,190.62 L506.50,190.68 L507.00,190.72 L507.50,190.77 L508.00,190.81 L508.50,190.84 L509.00,190.87 L509.50,190.90 L510.00,190.93 L510.00,191.00 L440.00,189.00 Z" fill="url(#g4)"/>
<path d="M440.00,188.55 L440.50,188.49 L441.00,188.41 L441.50,188.33 L442.00,188.23 L442.50,188.11 L443.00,187.97 L443.50,187.82 L444.00,187.64 L444.50,187.44 L445.00,187.22 L445.50,186.96 L446.00,186.67 L446.50,186.35 L447.00,185.99 L447.50,185.59 L448.00,185.15 L448.50,184.66 L449.00,184.13 L449.50,183.54 L450.00,182.89 L450.50,182.19 L451.00,181.43 L451.50,180.60 L452.00,179.71 L452.50,178.75 L453.00,177.72 L453.50,176.62 L454.00,175.45 L454.50,174.21 L455.00,172.89 L455.50,171.51 L456.00,170.05 L456.50,168.53 L457.00,166.94 L457.50,165.29 L458.00,163.58 L458.50,161.82 L459.00,160.01 L459.50,158.16 L460.00,156.28 L460.50,154.36 L461.00,152.43 L461.50,150.49 L462.00,148.55 L462.50,146.62 L463.00,144.71 L463.50,142.83 L464.00,141.00 L464.50,139.22 L465.00,137.50 L465.50,135.85 L466.00,134.30 L466.50,132.84 L467.00,131.48 L467.50,130.24 L468.00,129.13 L468.50,128.15 L469.00,127.31 L469.50,126.62 L470.00,126.08 L470.50,125.69 L471.00,125.47 L471.50,125.40 L472.00,125.49 L472.50,125.73 L473.00,126.11 L473.50,126.64 L474.00,127.31 L474.50,128.11 L475.00,129.05 L475.50,130.11 L476.00,131.29 L476.50,132.58 L477.00,133.97 L477.50,135.46 L478.00,137.03 L478.50,138.67 L479.00,140.38 L479.50,142.15 L480.00,143.96 L480.50,145.80 L481.00,147.67 L481.50,149.56 L482.00,151.45 L482.50,153.35 L483.00,155.23 L483.50,157.09 L484.00,158.93 L484.50,160.74 L485.00,162.51 L485.50,164.23 L486.00,165.91 L486.50,167.53 L487.00,169.10 L487.50,170.61 L488.00,172.05 L488.50,173.43 L489.00,174.74 L489.50,175.99 L490.00,177.17 L490.50,178.29 L491.00,179.34 L491.50,180.32 L492.00,181.24 L492.50,182.10 L493.00,182.90 L493.50,183.64 L494.00,184.33 L494.50,184.97 L495.00,185.55 L495.50,186.09 L496.00,186.58 L496.50,187.03 L497.00,187.44 L497.50,187.81 L498.00,188.15 L498.50,188.45 L499.00,188.73 L499.50,188.98 L500.00,189.20 L500.50,189.41 L501.00,189.59 L501.50,189.75 L502.00,189.90 L502.50,190.03 L503.00,190.14 L503.50,190.25 L504.00,190.34 L504.50,190.42 L505.00,190.50 L505.50,190.56" fill="none" stroke="#f6d2a0" stroke-width="0.80" stroke-opacity="1.00" stroke-linejoin="round"/>
<path d="M405.00,186.78 L405.50,186.77 L406.00,186.76 L406.50,186.75 L407.00,186.74 L407.50,186.73 L408.00,186.71 L408.50,186.68 L409.00,186.66 L409.50,186.63 L410.00,186.59 L410.50,186.56 L411.00,186.51 L411.50,186.47 L412.00,186.41 L412.50,186.35 L413.00,186.29 L413.50,186.22 L414.00,186.14 L414.50,186.06 L415.00,185.96 L415.50,185.87 L416.00,185.76 L416.50,185.64 L417.00,185.52 L417.50,185.38 L418.00,185.24 L418.50,185.09 L419.00,184.93 L419.50,184.75 L420.00,184.57 L420.50,184.37 L421.00,184.16 L421.50,183.95 L422.00,183.71 L422.50,183.47 L423.00,183.22 L423.50,182.95 L424.00,182.67 L424.50,182.37 L425.00,182.06 L425.50,181.74 L426.00,181.41 L426.50,181.06 L427.00,180.71 L427.50,180.33 L428.00,179.95 L428.50,179.55 L429.00,179.14 L429.50,178.72 L430.00,178.29 L430.50,177.85 L431.00,177.40 L431.50,176.93 L432.00,176.46 L432.50,175.98 L433.00,175.50 L433.50,175.01 L434.00,174.51 L434.50,174.00 L435.00,173.50 L435.50,172.99 L436.00,172.48 L436.50,171.97 L437.00,171.46 L437.50,170.95 L438.00,170.45 L438.50,169.95 L439.00,169.45 L439.50,168.97 L440.00,168.49 L440.50,168.02 L441.00,167.57 L441.50,167.13 L442.00,166.70 L442.50,166.29 L443.00,165.89 L443.50,165.51 L444.00,165.15 L444.50,164.82 L445.00,164.50 L445.50,164.20 L446.00,163.93 L446.50,163.69 L447.00,163.47 L447.50,163.27 L448.00,163.11 L448.50,162.97 L449.00,162.85 L449.50,162.77 L450.00,162.72 L450.50,162.69 L451.00,162.69 L451.50,162.73 L452.00,162.81 L452.50,162.92 L453.00,163.07 L453.50,163.25 L454.00,163.47 L454.50,163.72 L455.00,164.01 L455.50,164.33 L456.00,164.68 L456.50,165.06 L457.00,165.47 L457.50,165.90 L458.00,166.36 L458.50,166.85 L459.00,167.35 L459.50,167.88 L460.00,168.42 L460.50,168.98 L461.00,169.55 L461.50,170.13 L462.00,170.73 L462.50,171.33 L463.00,171.94 L463.50,172.55 L464.00,173.16 L464.50,173.78 L465.00,174.40 L465.50,175.01 L466.00,175.62 L466.50,176.22 L467.00,176.81 L467.50,177.40 L468.00,177.98 L468.50,178.54 L469.00,179.10 L469.50,179.64 L470.00,180.17 L470.50,180.68 L471.00,181.18 L471.50,181.67 L472.00,182.13 L472.50,182.59 L473.00,183.02 L473.50,183.44 L474.00,183.84 L474.50,184.23 L475.00,184.60 L475.50,184.95 L476.00,185.29 L476.50,185.61 L477.00,185.92 L477.50,186.21 L478.00,186.48 L478.50,186.74 L479.00,186.99 L479.50,187.22 L480.00,187.44 L480.50,187.64 L481.00,187.84 L481.50,188.02 L482.00,188.19 L482.50,188.35 L483.00,188.50 L483.50,188.64 L484.00,188.77 L484.50,188.89 L485.00,189.00 L485.50,189.11 L486.00,189.21 L486.50,189.30 L487.00,189.39 L487.50,189.47 L488.00,189.55 L488.50,189.62 L489.00,189.68 L489.50,189.74 L490.00,189.80 L490.50,189.85 L491.00,189.90 L491.50,189.95 L492.00,190.00 L492.50,190.04 L493.00,190.08 L493.50,190.11 L494.00,190.15 L494.50,190.18 L495.00,190.22 L495.50,190.25 L496.00,190.27 L496.50,190.30 L497.00,190.33 L497.50,190.36 L498.00,190.38 L498.50,190.40 L499.00,190.43 L499.50,190.45 L500.00,190.47 L500.00,190.50 L405.00,187.00 Z" fill="url(#g5)"/>
<path d="M406.50,186.75 L407.00,186.74 L407.50,186.73 L408.00,186.71 L408.50,186.68 L409.00,186.66 L409.50,186.63 L410.00,186.59 L410.50,186.56 L411.00,186.51 L411.50,186.47 L412.00,186.41 L412.50,186.35 L413.00,186.29 L413.50,186.22 L414.00,186.14 L414.50,186.06 L415.00,185.96 L415.50,185.87 L416.00,185.76 L416.50,185.64 L417.00,185.52 L417.50,185.38 L418.00,185.24 L418.50,185.09 L419.00,184.93 L419.50,184.75 L420.00,184.57 L420.50,184.37 L421.00,184.16 L421.50,183.95 L422.00,183.71 L422.50,183.47 L423.00,183.22 L423.50,182.95 L424.00,182.67 L424.50,182.37 L425.00,182.06 L425.50,181.74 L426.00,181.41 L426.50,181.06 L427.00,180.71 L427.50,180.33 L428.00,179.95 L428.50,179.55 L429.00,179.14 L429.50,178.72 L430.00,178.29 L430.50,177.85 L431.00,177.40 L431.50,176.93 L432.00,176.46 L432.50,175.98 L433.00,175.50 L433.50,175.01 L434.00,174.51 L434.50,174.00 L435.00,173.50 L435.50,172.99 L436.00,172.48 L436.50,171.97 L437.00,171.46 L437.50,170.95 L438.00,170.45 L438.50,169.95 L439.00,169.45 L439.50,168.97 L440.00,168.49 L440.50,168.02 L441.00,167.57 L441.50,167.13 L442.00,166.70 L442.50,166.29 L443.00,165.89 L443.50,165.51 L444.00,165.15 L444.50,164.82 L445.00,164.50 L445.50,164.20 L446.00,163.93 L446.50,163.69 L447.00,163.47 L447.50,163.27 L448.00,163.11 L448.50,162.97 L449.00,162.85 L449.50,162.77 L450.00,162.72 L450.50,162.69 L451.00,162.69 L451.50,162.73 L452.00,162.81 L452.50,162.92 L453.00,163.07 L453.50,163.25 L454.00,163.47 L454.50,163.72 L455.00,164.01 L455.50,164.33 L456.00,164.68 L456.50,165.06 L457.00,165.47 L457.50,165.90 L458.00,166.36 L458.50,166.85 L459.00,167.35 L459.50,167.88 L460.00,168.42 L460.50,168.98 L461.00,169.55 L461.50,170.13 L462.00,170.73 L462.50,171.33 L463.00,171.94 L463.50,172.55 L464.00,173.16 L464.50,173.78 L465.00,174.40 L465.50,175.01 L466.00,175.62 L466.50,176.22 L467.00,176.81 L467.50,177.40 L468.00,177.98 L468.50,178.54 L469.00,179.10 L469.50,179.64 L470.00,180.17 L470.50,180.68 L471.00,181.18 L471.50,181.67 L472.00,182.13 L472.50,182.59 L473.00,183.02 L473.50,183.44 L474.00,183.84 L474.50,184.23 L475.00,184.60 L475.50,184.95 L476.00,185.29 L476.50,185.61 L477.00,185.92 L477.50,186.21 L478.00,186.48 L478.50,186.74 L479.00,186.99 L479.50,187.22 L480.00,187.44 L480.50,187.64 L481.00,187.84 L481.50,188.02 L482.00,188.19 L482.50,188.35 L483.00,188.50 L483.50,188.64 L484.00,188.77 L484.50,188.89 L485.00,189.00 L485.50,189.11 L486.00,189.21 L486.50,189.30 L487.00,189.39 L487.50,189.47 L488.00,189.55 L488.50,189.62 L489.00,189.68 L489.50,189.74 L490.00,189.80" fill="none" stroke="#8ee89a" stroke-width="0.60" stroke-opacity="0.60" stroke-linejoin="round"/>
<path d="M385.00,186.10 L385.50,186.09 L386.00,186.09 L386.50,186.08 L387.00,186.08 L387.50,186.07 L388.00,186.06 L388.50,186.05 L389.00,186.04 L389.50,186.03 L390.00,186.01 L390.50,186.00 L391.00,185.98 L391.50,185.96 L392.00,185.94 L392.50,185.92 L393.00,185.90 L393.50,185.87 L394.00,185.85 L394.50,185.82 L395.00,185.79 L395.50,185.76 L396.00,185.73 L396.50,185.69 L397.00,185.65 L397.50,185.62 L398.00,185.58 L398.50,185.53 L399.00,185.49 L399.50,185.44 L400.00,185.40 L400.50,185.35 L401.00,185.29 L401.50,185.24 L402.00,185.19 L402.50,185.13 L403.00,185.07 L403.50,185.01 L404.00,184.95 L404.50,184.88 L405.00,184.82 L405.50,184.75 L406.00,184.68 L406.50,184.61 L407.00,184.54 L407.50,184.47 L408.00,184.40 L408.50,184.32 L409.00,184.25 L409.50,184.17 L410.00,184.09 L410.50,184.01 L411.00,183.93 L411.50,183.85 L412.00,183.77 L412.50,183.69 L413.00,183.61 L413.50,183.53 L414.00,183.45 L414.50,183.37 L415.00,183.29 L415.50,183.21 L416.00,183.13 L416.50,183.05 L417.00,182.97 L417.50,182.89 L418.00,182.81 L418.50,182.74 L419.00,182.66 L419.50,182.59 L420.00,182.52 L420.50,182.45 L421.00,182.39 L421.50,182.32 L422.00,182.26 L422.50,182.20 L423.00,182.14 L423.50,182.09 L424.00,182.04 L424.50,181.99 L425.00,181.94 L425.50,181.90 L426.00,181.86 L426.50,181.82 L427.00,181.79 L427.50,181.76 L428.00,181.74 L428.50,181.72 L429.00,181.70 L429.50,181.68 L430.00,181.67 L430.50,181.67 L431.00,181.67 L431.50,181.67 L432.00,181.67 L432.50,181.69 L433.00,181.70 L433.50,181.72 L434.00,181.74 L434.50,181.77 L435.00,181.80 L435.50,181.83 L436.00,181.87 L436.50,181.92 L437.00,181.96 L437.50,182.02 L438.00,182.07 L438.50,182.13 L439.00,182.19 L439.50,182.26 L440.00,182.33 L440.50,182.40 L441.00,182.48 L441.50,182.55 L442.00,182.64 L442.50,182.72 L443.00,182.81 L443.50,182.90 L444.00,182.99 L444.50,183.09 L445.00,183.19 L445.50,183.29 L446.00,183.39 L446.50,183.49 L447.00,183.60 L447.50,183.71 L448.00,183.81 L448.50,183.92 L449.00,184.03 L449.50,184.15 L450.00,184.26 L450.50,184.37 L451.00,184.49 L451.50,184.60 L452.00,184.71 L452.50,184.83 L453.00,184.94 L453.50,185.06 L454.00,185.17 L454.50,185.29 L455.00,185.40 L455.50,185.51 L456.00,185.62 L456.50,185.74 L457.00,185.85 L457.50,185.96 L458.00,186.06 L458.50,186.17 L459.00,186.28 L459.50,186.38 L460.00,186.48 L460.50,186.59 L461.00,186.69 L461.50,186.78 L462.00,186.88 L462.50,186.98 L463.00,187.07 L463.50,187.16 L464.00,187.25 L464.50,187.34 L465.00,187.43 L465.50,187.51 L466.00,187.60 L466.50,187.68 L467.00,187.76 L467.50,187.83 L468.00,187.91 L468.50,187.98 L469.00,188.05 L469.50,188.12 L470.00,188.19 L470.50,188.26 L471.00,188.32 L471.50,188.39 L472.00,188.45 L472.50,188.51 L473.00,188.56 L473.50,188.62 L474.00,188.68 L474.50,188.73 L475.00,188.78 L475.50,188.83 L476.00,188.88 L476.50,188.93 L477.00,188.97 L477.50,189.02 L478.00,189.06 L478.50,189.10 L479.00,189.14 L479.50,189.18 L480.00,189.22 L480.50,189.26 L481.00,189.30 L481.50,189.33 L482.00,189.37 L482.50,189.40 L483.00,189.43 L483.50,189.46 L484.00,189.49 L484.50,189.52 L485.00,189.55 L485.50,189.58 L486.00,189.61 L486.50,189.64 L487.00,189.66 L487.50,189.69 L488.00,189.72 L488.50,189.74 L489.00,189.76 L489.50,189.79 L490.00,189.81 L490.00,189.90 L385.00,186.40 Z" fill="url(#g6)"/>
<path d="M385.00,186.10 L385.50,186.09 L386.00,186.09 L386.50,186.08 L387.00,186.08 L387.50,186.07 L388.00,186.06 L388.50,186.05 L389.00,186.04 L389.50,186.03 L390.00,186.01 L390.50,186.00 L391.00,185.98 L391.50,185.96 L392.00,185.94 L392.50,185.92 L393.00,185.90 L393.50,185.87 L394.00,185.85 L394.50,185.82 L395.00,185.79 L395.50,185.76 L396.00,185.73 L396.50,185.69 L397.00,185.65 L397.50,185.62 L398.00,185.58 L398.50,185.53 L399.00,185.49 L399.50,185.44 L400.00,185.40 L400.50,185.35 L401.00,185.29 L401.50,185.24 L402.00,185.19 L402.50,185.13 L403.00,185.07 L403.50,185.01 L404.00,184.95 L404.50,184.88 L405.00,184.82 L405.50,184.75 L406.00,184.68 L406.50,184.61 L407.00,184.54 L407.50,184.47 L408.00,184.40 L408.50,184.32 L409.00,184.25 L409.50,184.17 L410.00,184.09 L410.50,184.01 L411.00,183.93 L411.50,183.85 L412.00,183.77 L412.50,183.69 L413.00,183.61 L413.50,183.53 L414.00,183.45 L414.50,183.37 L415.00,183.29 L415.50,183.21 L416.00,183.13 L416.50,183.05 L417.00,182.97 L417.50,182.89 L418.00,182.81 L418.50,182.74 L419.00,182.66 L419.50,182.59 L420.00,182.52 L420.50,182.45 L421.00,182.39 L421.50,182.32 L422.00,182.26 L422.50,182.20 L423.00,182.14 L423.50,182.09 L424.00,182.04 L424.50,181.99 L425.00,181.94 L425.50,181.90 L426.00,181.86 L426.50,181.82 L427.00,181.79 L427.50,181.76 L428.00,181.74 L428.50,181.72 L429.00,181.70 L429.50,181.68 L430.00,181.67 L430.50,181.67 L431.00,181.67 L431.50,181.67 L432.00,181.67 L432.50,181.69 L433.00,181.70 L433.50,181.72 L434.00,181.74 L434.50,181.77 L435.00,181.80 L435.50,181.83 L436.00,181.87 L436.50,181.92 L437.00,181.96 L437.50,182.02 L438.00,182.07 L438.50,182.13 L439.00,182.19 L439.50,182.26 L440.00,182.33 L440.50,182.40 L441.00,182.48 L441.50,182.55 L442.00,182.64 L442.50,182.72 L443.00,182.81 L443.50,182.90 L444.00,182.99 L444.50,183.09 L445.00,183.19 L445.50,183.29 L446.00,183.39 L446.50,183.49 L447.00,183.60 L447.50,183.71 L448.00,183.81 L448.50,183.92 L449.00,184.03 L449.50,184.15 L450.00,184.26 L450.50,184.37 L451.00,184.49 L451.50,184.60 L452.00,184.71 L452.50,184.83 L453.00,184.94 L453.50,185.06 L454.00,185.17 L454.50,185.29 L455.00,185.40 L455.50,185.51 L456.00,185.62 L456.50,185.74 L457.00,185.85 L457.50,185.96 L458.00,186.06 L458.50,186.17 L459.00,186.28 L459.50,186.38 L460.00,186.48 L460.50,186.59 L461.00,186.69 L461.50,186.78 L462.00,186.88 L462.50,186.98 L463.00,187.07 L463.50,187.16 L464.00,187.25 L464.50,187.34 L465.00,187.43 L465.50,187.51 L466.00,187.60 L466.50,187.68 L467.00,187.76 L467.50,187.83 L468.00,187.91 L468.50,187.98 L469.00,188.05 L469.50,188.12 L470.00,188.19 L470.50,188.26 L471.00,188.32 L471.50,188.39 L472.00,188.45 L472.50,188.51 L473.00,188.56 L473.50,188.62 L474.00,188.68 L474.50,188.73 L475.00,188.78 L475.50,188.83 L476.00,188.88 L476.50,188.93 L477.00,188.97 L477.50,189.02 L478.00,189.06 L478.50,189.10 L479.00,189.14 L479.50,189.18 L480.00,189.22 L480.50,189.26 L481.00,189.30" fill="none" stroke="#00dcf2" stroke-width="1.50" stroke-opacity="1.00" stroke-linejoin="round"/>
<path d="M362.00,185.16 L362.50,185.16 L363.00,185.16 L363.50,185.15 L364.00,185.15 L364.50,185.14 L365.00,185.13 L365.50,185.12 L366.00,185.10 L366.50,185.09 L367.00,185.07 L367.50,185.04 L368.00,185.02 L368.50,184.99 L369.00,184.96 L369.50,184.92 L370.00,184.88 L370.50,184.84 L371.00,184.79 L371.50,184.74 L372.00,184.69 L372.50,184.63 L373.00,184.57 L373.50,184.50 L374.00,184.43 L374.50,184.35 L375.00,184.27 L375.50,184.19 L376.00,184.10 L376.50,184.02 L377.00,183.92 L377.50,183.83 L378.00,183.73 L378.50,183.63 L379.00,183.53 L379.50,183.43 L380.00,183.32 L380.50,183.22 L381.00,183.12 L381.50,183.02 L382.00,182.92 L382.50,182.82 L383.00,182.73 L383.50,182.64 L384.00,182.55 L384.50,182.47 L385.00,182.39 L385.50,182.32 L386.00,182.26 L386.50,182.21 L387.00,182.16 L387.50,182.12 L388.00,182.09 L388.50,182.06 L389.00,182.05 L389.50,182.05 L390.00,182.05 L390.50,182.06 L391.00,182.09 L391.50,182.12 L392.00,182.16 L392.50,182.21 L393.00,182.27 L393.50,182.33 L394.00,182.41 L394.50,182.49 L395.00,182.58 L395.50,182.67 L396.00,182.77 L396.50,182.87 L397.00,182.98 L397.50,183.09 L398.00,183.21 L398.50,183.33 L399.00,183.45 L399.50,183.57 L400.00,183.69 L400.50,183.81 L401.00,183.93 L401.50,184.05 L402.00,184.17 L402.50,184.29 L403.00,184.40 L403.50,184.51 L404.00,184.62 L404.50,184.72 L405.00,184.82 L405.50,184.92 L406.00,185.01 L406.50,185.10 L407.00,185.19 L407.50,185.27 L408.00,185.35 L408.50,185.42 L409.00,185.49 L409.50,185.55 L410.00,185.62 L410.50,185.67 L411.00,185.73 L411.50,185.78 L412.00,185.82 L412.50,185.87 L413.00,185.91 L413.50,185.95 L414.00,185.98 L414.50,186.02 L415.00,186.05 L415.50,186.07 L416.00,186.10 L416.50,186.13 L417.00,186.15 L417.50,186.17 L418.00,186.19 L418.50,186.21 L419.00,186.23 L419.50,186.24 L420.00,186.26 L420.00,186.30 L362.00,185.24 Z" fill="url(#g7)"/>
<path d="M368.00,185.02 L368.50,184.99 L369.00,184.96 L369.50,184.92 L370.00,184.88 L370.50,184.84 L371.00,184.79 L371.50,184.74 L372.00,184.69 L372.50,184.63 L373.00,184.57 L373.50,184.50 L374.00,184.43 L374.50,184.35 L375.00,184.27 L375.50,184.19 L376.00,184.10 L376.50,184.02 L377.00,183.92 L377.50,183.83 L378.00,183.73 L378.50,183.63 L379.00,183.53 L379.50,183.43 L380.00,183.32 L380.50,183.22 L381.00,183.12 L381.50,183.02 L382.00,182.92 L382.50,182.82 L383.00,182.73 L383.50,182.64 L384.00,182.55 L384.50,182.47 L385.00,182.39 L385.50,182.32 L386.00,182.26 L386.50,182.21 L387.00,182.16 L387.50,182.12 L388.00,182.09 L388.50,182.06 L389.00,182.05 L389.50,182.05 L390.00,182.05 L390.50,182.06 L391.00,182.09 L391.50,182.12 L392.00,182.16 L392.50,182.21 L393.00,182.27 L393.50,182.33 L394.00,182.41 L394.50,182.49 L395.00,182.58 L395.50,182.67 L396.00,182.77 L396.50,182.87 L397.00,182.98 L397.50,183.09 L398.00,183.21 L398.50,183.33 L399.00,183.45 L399.50,183.57 L400.00,183.69 L400.50,183.81 L401.00,183.93 L401.50,184.05 L402.00,184.17 L402.50,184.29 L403.00,184.40 L403.50,184.51 L404.00,184.62 L404.50,184.72 L405.00,184.82 L405.50,184.92 L406.00,185.01 L406.50,185.10 L407.00,185.19 L407.50,185.27 L408.00,185.35 L408.50,185.42 L409.00,185.49 L409.50,185.55 L410.00,185.62 L410.50,185.67 L411.00,185.73 L411.50,185.78 L412.00,185.82" fill="none" stroke="#ff6ec4" stroke-width="1.00" stroke-opacity="1.00" stroke-linejoin="round"/>
<path d="M345.00,185.20 L420.00,186.30 L470.00,189.00 L510.00,191.00" fill="none" stroke="#eaa84e" stroke-width="1.0"/>
<path d="M293.00,186.20 C295.00,186.23 300.83,186.42 305.00,186.40 C309.17,186.38 313.50,186.10 318.00,186.10 C322.50,186.10 327.50,186.42 332.00,186.40 C336.50,186.38 340.33,186.30 345.00,186.00 C349.67,185.70 353.87,185.42 360.00,184.60 C366.13,183.78 376.35,181.73 381.80,181.10 C387.25,180.47 389.07,180.97 392.70,180.80 C396.33,180.63 400.72,180.47 403.60,180.10 C406.48,179.73 408.18,179.03 410.00,178.60 C411.82,178.17 412.83,177.98 414.50,177.50 C416.17,177.02 418.25,176.28 420.00,175.70 C421.75,175.12 422.95,175.02 425.00,174.00 C427.05,172.98 429.85,171.55 432.30,169.60 C434.75,167.65 437.25,165.23 439.70,162.30 C442.15,159.37 445.05,154.93 447.00,152.00 C448.95,149.07 449.93,147.38 451.40,144.70 C452.87,142.02 454.33,138.83 455.80,135.90 C457.27,132.97 458.73,130.03 460.20,127.10 C461.67,124.17 463.13,120.55 464.60,118.30 C466.07,116.05 467.78,114.10 469.00,113.60 C470.22,113.10 470.90,114.03 471.90,115.30 C472.90,116.57 473.75,118.52 475.00,121.20 C476.25,123.88 477.93,126.73 479.40,131.40 C480.87,136.07 482.32,143.27 483.80,149.20 C485.28,155.13 486.52,161.67 488.30,167.00 C490.08,172.33 492.28,177.65 494.50,181.20 C496.72,184.75 499.02,186.67 501.60,188.30 C504.18,189.93 506.55,190.42 510.00,191.00 C513.45,191.58 517.13,191.67 522.30,191.80 C527.47,191.93 537.88,191.80 541.00,191.80" fill="none" stroke="#1ca8b8" stroke-width="1.4"/>
<text x="298.00" y="180.40" font-size="7.25" font-weight="bold" fill="#111" font-family="Liberation Sans, sans-serif" textLength="66.61" lengthAdjust="spacingAndGlyphs" stroke="#111" stroke-width="0.30" stroke-linejoin="round">EVA/ATH/PhVPOSS</text>
<text x="353.94" y="164.20" font-size="7.25" font-weight="normal" fill="#ff72c2" font-family="Liberation Sans, sans-serif" textLength="15.05" lengthAdjust="spacingAndGlyphs" stroke="#ff72c2" stroke-width="0.35" stroke-linejoin="round">C=O</text>
<line x1="369.20" y1="165.70" x2="381.07" y2="178.99" stroke="#222" stroke-width="0.90"/>
<path d="M383.40,181.60 L379.06,179.44 L381.75,177.04 Z" fill="#222"/>
<text x="390.74" y="164.50" font-size="7.68" font-weight="normal" fill="#08d8f0" font-family="Liberation Sans, sans-serif" textLength="13.14" lengthAdjust="spacingAndGlyphs" stroke="#08d8f0" stroke-width="0.35" stroke-linejoin="round">C-O</text>
<line x1="404.00" y1="165.40" x2="427.07" y2="177.03" stroke="#222" stroke-width="0.90"/>
<path d="M430.20,178.60 L425.37,178.18 L426.99,174.97 Z" fill="#222"/>
<text x="406.84" y="150.10" font-size="7.39" font-weight="normal" fill="#2edc62" font-family="Liberation Sans, sans-serif" textLength="12.80" lengthAdjust="spacingAndGlyphs" stroke="#2edc62" stroke-width="0.35" stroke-linejoin="round">C-C</text>
<line x1="420.50" y1="149.10" x2="442.58" y2="160.31" stroke="#222" stroke-width="0.90"/>
<path d="M445.70,161.90 L440.87,161.47 L442.50,158.26 Z" fill="#222"/>
<text x="424.74" y="121.80" font-size="7.10" font-weight="normal" fill="#f9dcb0" font-family="Liberation Sans, sans-serif" textLength="14.03" lengthAdjust="spacingAndGlyphs" stroke="#f9dcb0" stroke-width="0.35" stroke-linejoin="round">C-Si</text>
<line x1="440.20" y1="120.70" x2="464.60" y2="126.67" stroke="#222" stroke-width="0.90"/>
<path d="M468.00,127.50 L463.20,128.18 L464.06,124.68 Z" fill="#222"/>
<rect x="16.60" y="243.20" width="253.90" height="201.10" fill="none" stroke="#161616" stroke-width="1.50"/>
<line x1="16.6" y1="343.7" x2="270.5" y2="343.7" stroke="#161616" stroke-width="1.4"/>
<line x1="16.60" y1="444.30" x2="16.60" y2="447.60" stroke="#161616" stroke-width="1.20"/>
<line x1="55.34" y1="444.30" x2="55.34" y2="447.60" stroke="#161616" stroke-width="1.20"/>
<line x1="94.08" y1="444.30" x2="94.08" y2="447.60" stroke="#161616" stroke-width="1.20"/>
<line x1="132.82" y1="444.30" x2="132.82" y2="447.60" stroke="#161616" stroke-width="1.20"/>
<line x1="171.56" y1="444.30" x2="171.56" y2="447.60" stroke="#161616" stroke-width="1.20"/>
<line x1="210.30" y1="444.30" x2="210.30" y2="447.60" stroke="#161616" stroke-width="1.20"/>
<line x1="249.04" y1="444.30" x2="249.04" y2="447.60" stroke="#161616" stroke-width="1.20"/>
<line x1="35.97" y1="444.30" x2="35.97" y2="446.10" stroke="#161616" stroke-width="1.20"/>
<line x1="74.71" y1="444.30" x2="74.71" y2="446.10" stroke="#161616" stroke-width="1.20"/>
<line x1="113.45" y1="444.30" x2="113.45" y2="446.10" stroke="#161616" stroke-width="1.20"/>
<line x1="152.19" y1="444.30" x2="152.19" y2="446.10" stroke="#161616" stroke-width="1.20"/>
<line x1="190.93" y1="444.30" x2="190.93" y2="446.10" stroke="#161616" stroke-width="1.20"/>
<line x1="229.67" y1="444.30" x2="229.67" y2="446.10" stroke="#161616" stroke-width="1.20"/>
<text x="9.39" y="456.80" font-size="8.90" font-weight="bold" fill="#111" font-family="Liberation Sans, sans-serif" textLength="14.40" lengthAdjust="spacingAndGlyphs" stroke="#111" stroke-width="0.35">538</text>
<text x="48.17" y="456.80" font-size="8.90" font-weight="bold" fill="#111" font-family="Liberation Sans, sans-serif" textLength="14.40" lengthAdjust="spacingAndGlyphs" stroke="#111" stroke-width="0.35">536</text>
<text x="86.79" y="456.80" font-size="8.90" font-weight="bold" fill="#111" font-family="Liberation Sans, sans-serif" textLength="14.40" lengthAdjust="spacingAndGlyphs" stroke="#111" stroke-width="0.35">534</text>
<text x="125.65" y="456.80" font-size="8.90" font-weight="bold" fill="#111" font-family="Liberation Sans, sans-serif" textLength="14.40" lengthAdjust="spacingAndGlyphs" stroke="#111" stroke-width="0.35">532</text>
<text x="164.39" y="456.80" font-size="8.90" font-weight="bold" fill="#111" font-family="Liberation Sans, sans-serif" textLength="14.40" lengthAdjust="spacingAndGlyphs" stroke="#111" stroke-width="0.35">530</text>
<text x="203.09" y="456.80" font-size="8.90" font-weight="bold" fill="#111" font-family="Liberation Sans, sans-serif" textLength="14.40" lengthAdjust="spacingAndGlyphs" stroke="#111" stroke-width="0.35">528</text>
<text x="241.87" y="456.80" font-size="8.90" font-weight="bold" fill="#111" font-family="Liberation Sans, sans-serif" textLength="14.40" lengthAdjust="spacingAndGlyphs" stroke="#111" stroke-width="0.35">526</text>
<text x="101.07" y="468.00" font-size="9.80" font-weight="bold" fill="#111" font-family="Liberation Sans, sans-serif" textLength="85.64" lengthAdjust="spacingAndGlyphs" stroke="#111" stroke-width="0.35" stroke-linejoin="round">Binding Energy (eV)</text>
<text x="0" y="0" transform="translate(11.00,370.80) rotate(-90)" font-size="9.40" font-weight="bold" fill="#111" font-family="Liberation Sans, sans-serif" textLength="62.08" lengthAdjust="spacingAndGlyphs" stroke="#111" stroke-width="0.30" dx="-0.64">intensity (a.u.)</text>
<text x="31.50" y="268.92" font-size="17.98" font-weight="bold" fill="#111" font-family="Liberation Sans, sans-serif" textLength="24.33" lengthAdjust="spacingAndGlyphs" stroke="#111" stroke-width="0.20">(c)</text>
<text x="223.06" y="268.60" font-size="17.30" font-weight="normal" fill="#111" font-family="Liberation Sans, sans-serif" textLength="37.50" lengthAdjust="spacingAndGlyphs" stroke="#111" stroke-width="0.20" stroke-linejoin="round">O 1s</text>
<path d="M95.00,332.67 L95.50,332.64 L96.00,332.60 L96.50,332.57 L97.00,332.52 L97.50,332.48 L98.00,332.43 L98.50,332.38 L99.00,332.32 L99.50,332.26 L100.00,332.20 L100.50,332.13 L101.00,332.05 L101.50,331.97 L102.00,331.88 L102.50,331.78 L103.00,331.68 L103.50,331.57 L104.00,331.46 L104.50,331.33 L105.00,331.20 L105.50,331.05 L106.00,330.90 L106.50,330.74 L107.00,330.56 L107.50,330.38 L108.00,330.18 L108.50,329.97 L109.00,329.75 L109.50,329.51 L110.00,329.26 L110.50,329.00 L111.00,328.71 L111.50,328.42 L112.00,328.10 L112.50,327.77 L113.00,327.43 L113.50,327.06 L114.00,326.67 L114.50,326.27 L115.00,325.84 L115.50,325.39 L116.00,324.93 L116.50,324.43 L117.00,323.92 L117.50,323.39 L118.00,322.83 L118.50,322.24 L119.00,321.63 L119.50,321.00 L120.00,320.34 L120.50,319.66 L121.00,318.95 L121.50,318.22 L122.00,317.46 L122.50,316.67 L123.00,315.86 L123.50,315.02 L124.00,314.15 L124.50,313.26 L125.00,312.34 L125.50,311.40 L126.00,310.43 L126.50,309.44 L127.00,308.42 L127.50,307.39 L128.00,306.32 L128.50,305.24 L129.00,304.14 L129.50,303.01 L130.00,301.87 L130.50,300.71 L131.00,299.53 L131.50,298.33 L132.00,297.13 L132.50,295.91 L133.00,294.68 L133.50,293.44 L134.00,292.19 L134.50,290.94 L135.00,289.68 L135.50,288.42 L136.00,287.16 L136.50,285.90 L137.00,284.65 L137.50,283.40 L138.00,282.17 L138.50,280.94 L139.00,279.72 L139.50,278.53 L140.00,277.34 L140.50,276.18 L141.00,275.04 L141.50,273.92 L142.00,272.84 L142.50,271.77 L143.00,270.74 L143.50,269.75 L144.00,268.79 L144.50,267.86 L145.00,266.98 L145.50,266.14 L146.00,265.34 L146.50,264.58 L147.00,263.87 L147.50,263.21 L148.00,262.60 L148.50,262.05 L149.00,261.54 L149.50,261.09 L150.00,260.69 L150.50,260.35 L151.00,260.07 L151.50,259.84 L152.00,259.67 L152.50,259.56 L153.00,259.50 L153.50,259.51 L154.00,259.58 L154.50,259.70 L155.00,259.88 L155.50,260.12 L156.00,260.41 L156.50,260.77 L157.00,261.17 L157.50,261.64 L158.00,262.15 L158.50,262.72 L159.00,263.34 L159.50,264.01 L160.00,264.73 L160.50,265.49 L161.00,266.30 L161.50,267.15 L162.00,268.05 L162.50,268.98 L163.00,269.94 L163.50,270.95 L164.00,271.98 L164.50,273.05 L165.00,274.15 L165.50,275.27 L166.00,276.41 L166.50,277.58 L167.00,278.76 L167.50,279.97 L168.00,281.18 L168.50,282.41 L169.00,283.65 L169.50,284.90 L170.00,286.16 L170.50,287.41 L171.00,288.67 L171.50,289.93 L172.00,291.19 L172.50,292.44 L173.00,293.69 L173.50,294.92 L174.00,296.15 L174.50,297.37 L175.00,298.57 L175.50,299.76 L176.00,300.94 L176.50,302.10 L177.00,303.24 L177.50,304.36 L178.00,305.46 L178.50,306.54 L179.00,307.59 L179.50,308.63 L180.00,309.64 L180.50,310.63 L181.00,311.59 L181.50,312.53 L182.00,313.44 L182.50,314.33 L183.00,315.19 L183.50,316.02 L184.00,316.83 L184.50,317.61 L185.00,318.37 L185.50,319.10 L186.00,319.80 L186.50,320.48 L187.00,321.13 L187.50,321.76 L188.00,322.36 L188.50,322.94 L189.00,323.49 L189.50,324.03 L190.00,324.53 L190.50,325.02 L191.00,325.48 L191.50,325.93 L192.00,326.35 L192.50,326.75 L193.00,327.13 L193.50,327.50 L194.00,327.84 L194.50,328.17 L195.00,328.48 L195.50,328.77 L196.00,329.05 L196.50,329.31 L197.00,329.56 L197.50,329.79 L198.00,330.01 L198.50,330.22 L199.00,330.42 L199.50,330.60 L200.00,330.77 L200.50,330.93 L201.00,331.08 L201.50,331.22 L202.00,331.36 L202.50,331.48 L203.00,331.60 L203.50,331.70 L204.00,331.80 L204.50,331.90 L205.00,331.98 L205.50,332.07 L206.00,332.14 L206.50,332.21 L207.00,332.28 L207.50,332.34 L208.00,332.39 L208.50,332.44 L209.00,332.49 L209.50,332.53 L210.00,332.57 L210.50,332.61 L211.00,332.64 L211.50,332.68 L212.00,332.70 L212.50,332.73 L213.00,332.76 L213.50,332.78 L214.00,332.80 L214.50,332.82 L215.00,332.83 L215.00,333.00 L95.00,333.00 Z" fill="url(#g8)"/>
<path d="M95.00,332.67 L95.50,332.64 L96.00,332.60 L96.50,332.57 L97.00,332.52 L97.50,332.48 L98.00,332.43 L98.50,332.38 L99.00,332.32 L99.50,332.26 L100.00,332.20 L100.50,332.13 L101.00,332.05 L101.50,331.97 L102.00,331.88 L102.50,331.78 L103.00,331.68 L103.50,331.57 L104.00,331.46 L104.50,331.33 L105.00,331.20 L105.50,331.05 L106.00,330.90 L106.50,330.74 L107.00,330.56 L107.50,330.38 L108.00,330.18 L108.50,329.97 L109.00,329.75 L109.50,329.51 L110.00,329.26 L110.50,329.00 L111.00,328.71 L111.50,328.42 L112.00,328.10 L112.50,327.77 L113.00,327.43 L113.50,327.06 L114.00,326.67 L114.50,326.27 L115.00,325.84 L115.50,325.39 L116.00,324.93 L116.50,324.43 L117.00,323.92 L117.50,323.39 L118.00,322.83 L118.50,322.24 L119.00,321.63 L119.50,321.00 L120.00,320.34 L120.50,319.66 L121.00,318.95 L121.50,318.22 L122.00,317.46 L122.50,316.67 L123.00,315.86 L123.50,315.02 L124.00,314.15 L124.50,313.26 L125.00,312.34 L125.50,311.40 L126.00,310.43 L126.50,309.44 L127.00,308.42 L127.50,307.39 L128.00,306.32 L128.50,305.24 L129.00,304.14 L129.50,303.01 L130.00,301.87 L130.50,300.71 L131.00,299.53 L131.50,298.33 L132.00,297.13 L132.50,295.91 L133.00,294.68 L133.50,293.44 L134.00,292.19 L134.50,290.94 L135.00,289.68 L135.50,288.42 L136.00,287.16 L136.50,285.90 L137.00,284.65 L137.50,283.40 L138.00,282.17 L138.50,280.94 L139.00,279.72 L139.50,278.53 L140.00,277.34 L140.50,276.18 L141.00,275.04 L141.50,273.92 L142.00,272.84 L142.50,271.77 L143.00,270.74 L143.50,269.75 L144.00,268.79 L144.50,267.86 L145.00,266.98 L145.50,266.14 L146.00,265.34 L146.50,264.58 L147.00,263.87 L147.50,263.21 L148.00,262.60 L148.50,262.05 L149.00,261.54 L149.50,261.09 L150.00,260.69 L150.50,260.35 L151.00,260.07 L151.50,259.84 L152.00,259.67 L152.50,259.56 L153.00,259.50 L153.50,259.51 L154.00,259.58 L154.50,259.70 L155.00,259.88 L155.50,260.12 L156.00,260.41 L156.50,260.77 L157.00,261.17 L157.50,261.64 L158.00,262.15 L158.50,262.72 L159.00,263.34 L159.50,264.01 L160.00,264.73 L160.50,265.49 L161.00,266.30 L161.50,267.15 L162.00,268.05 L162.50,268.98 L163.00,269.94 L163.50,270.95 L164.00,271.98 L164.50,273.05 L165.00,274.15 L165.50,275.27 L166.00,276.41 L166.50,277.58 L167.00,278.76 L167.50,279.97 L168.00,281.18 L168.50,282.41 L169.00,283.65 L169.50,284.90 L170.00,286.16 L170.50,287.41 L171.00,288.67 L171.50,289.93 L172.00,291.19 L172.50,292.44 L173.00,293.69 L173.50,294.92 L174.00,296.15 L174.50,297.37 L175.00,298.57 L175.50,299.76 L176.00,300.94 L176.50,302.10 L177.00,303.24 L177.50,304.36 L178.00,305.46 L178.50,306.54 L179.00,307.59 L179.50,308.63 L180.00,309.64 L180.50,310.63 L181.00,311.59 L181.50,312.53 L182.00,313.44 L182.50,314.33 L183.00,315.19 L183.50,316.02 L184.00,316.83 L184.50,317.61 L185.00,318.37 L185.50,319.10 L186.00,319.80 L186.50,320.48 L187.00,321.13 L187.50,321.76 L188.00,322.36 L188.50,322.94 L189.00,323.49 L189.50,324.03 L190.00,324.53 L190.50,325.02 L191.00,325.48 L191.50,325.93 L192.00,326.35 L192.50,326.75 L193.00,327.13 L193.50,327.50 L194.00,327.84 L194.50,328.17 L195.00,328.48 L195.50,328.77 L196.00,329.05 L196.50,329.31 L197.00,329.56 L197.50,329.79 L198.00,330.01 L198.50,330.22 L199.00,330.42 L199.50,330.60 L200.00,330.77 L200.50,330.93 L201.00,331.08 L201.50,331.22 L202.00,331.36 L202.50,331.48 L203.00,331.60 L203.50,331.70 L204.00,331.80 L204.50,331.90 L205.00,331.98 L205.50,332.07 L206.00,332.14 L206.50,332.21 L207.00,332.28 L207.50,332.34 L208.00,332.39 L208.50,332.44 L209.00,332.49 L209.50,332.53 L210.00,332.57 L210.50,332.61 L211.00,332.64 L211.50,332.68" fill="none" stroke="#8ee89a" stroke-width="0.60" stroke-opacity="0.50" stroke-linejoin="round"/>
<path d="M75.00,332.95 L75.50,332.95 L76.00,332.94 L76.50,332.93 L77.00,332.92 L77.50,332.91 L78.00,332.90 L78.50,332.89 L79.00,332.88 L79.50,332.87 L80.00,332.85 L80.50,332.83 L81.00,332.82 L81.50,332.80 L82.00,332.77 L82.50,332.75 L83.00,332.72 L83.50,332.69 L84.00,332.66 L84.50,332.63 L85.00,332.59 L85.50,332.55 L86.00,332.50 L86.50,332.45 L87.00,332.40 L87.50,332.34 L88.00,332.28 L88.50,332.21 L89.00,332.14 L89.50,332.06 L90.00,331.98 L90.50,331.89 L91.00,331.79 L91.50,331.69 L92.00,331.58 L92.50,331.46 L93.00,331.33 L93.50,331.20 L94.00,331.05 L94.50,330.90 L95.00,330.74 L95.50,330.56 L96.00,330.38 L96.50,330.19 L97.00,329.98 L97.50,329.77 L98.00,329.54 L98.50,329.30 L99.00,329.05 L99.50,328.79 L100.00,328.51 L100.50,328.22 L101.00,327.92 L101.50,327.61 L102.00,327.28 L102.50,326.94 L103.00,326.59 L103.50,326.22 L104.00,325.84 L104.50,325.45 L105.00,325.04 L105.50,324.62 L106.00,324.19 L106.50,323.75 L107.00,323.29 L107.50,322.83 L108.00,322.35 L108.50,321.87 L109.00,321.38 L109.50,320.87 L110.00,320.36 L110.50,319.84 L111.00,319.32 L111.50,318.79 L112.00,318.26 L112.50,317.73 L113.00,317.19 L113.50,316.65 L114.00,316.11 L114.50,315.58 L115.00,315.05 L115.50,314.52 L116.00,313.99 L116.50,313.48 L117.00,312.97 L117.50,312.47 L118.00,311.99 L118.50,311.51 L119.00,311.05 L119.50,310.61 L120.00,310.18 L120.50,309.76 L121.00,309.37 L121.50,309.00 L122.00,308.65 L122.50,308.32 L123.00,308.01 L123.50,307.73 L124.00,307.47 L124.50,307.24 L125.00,307.04 L125.50,306.86 L126.00,306.71 L126.50,306.59 L127.00,306.50 L127.50,306.44 L128.00,306.41 L128.50,306.40 L129.00,306.43 L129.50,306.48 L130.00,306.57 L130.50,306.68 L131.00,306.83 L131.50,307.00 L132.00,307.20 L132.50,307.42 L133.00,307.67 L133.50,307.95 L134.00,308.25 L134.50,308.58 L135.00,308.93 L135.50,309.29 L136.00,309.68 L136.50,310.09 L137.00,310.52 L137.50,310.96 L138.00,311.42 L138.50,311.89 L139.00,312.38 L139.50,312.87 L140.00,313.38 L140.50,313.89 L141.00,314.41 L141.50,314.94 L142.00,315.47 L142.50,316.01 L143.00,316.54 L143.50,317.08 L144.00,317.62 L144.50,318.15 L145.00,318.69 L145.50,319.22 L146.00,319.74 L146.50,320.26 L147.00,320.77 L147.50,321.28 L148.00,321.77 L148.50,322.26 L149.00,322.74 L149.50,323.20 L150.00,323.66 L150.50,324.10 L151.00,324.54 L151.50,324.96 L152.00,325.37 L152.50,325.76 L153.00,326.14 L153.50,326.51 L154.00,326.87 L154.50,327.21 L155.00,327.54 L155.50,327.86 L156.00,328.17 L156.50,328.46 L157.00,328.73 L157.50,329.00 L158.00,329.25 L158.50,329.50 L159.00,329.72 L159.50,329.94 L160.00,330.15 L160.50,330.34 L161.00,330.53 L161.50,330.70 L162.00,330.87 L162.50,331.02 L163.00,331.17 L163.50,331.31 L164.00,331.43 L164.50,331.55 L165.00,331.67 L165.50,331.77 L166.00,331.87 L166.50,331.96 L167.00,332.05 L167.50,332.13 L168.00,332.20 L168.50,332.27 L169.00,332.33 L169.50,332.39 L170.00,332.44 L170.50,332.49 L171.00,332.54 L171.50,332.58 L172.00,332.62 L172.50,332.65 L173.00,332.69 L173.50,332.72 L174.00,332.74 L174.50,332.77 L175.00,332.79 L175.50,332.81 L176.00,332.83 L176.50,332.85 L177.00,332.86 L177.50,332.88 L178.00,332.89 L178.50,332.90 L179.00,332.91 L179.50,332.92 L180.00,332.93 L180.50,332.94 L181.00,332.94 L181.50,332.95 L182.00,332.96 L182.50,332.96 L183.00,332.97 L183.50,332.97 L184.00,332.97 L184.50,332.98 L185.00,332.98 L185.00,333.00 L75.00,333.00 Z" fill="url(#g9)"/>
<path d="M85.00,332.59 L85.50,332.55 L86.00,332.50 L86.50,332.45 L87.00,332.40 L87.50,332.34 L88.00,332.28 L88.50,332.21 L89.00,332.14 L89.50,332.06 L90.00,331.98 L90.50,331.89 L91.00,331.79 L91.50,331.69 L92.00,331.58 L92.50,331.46 L93.00,331.33 L93.50,331.20 L94.00,331.05 L94.50,330.90 L95.00,330.74 L95.50,330.56 L96.00,330.38 L96.50,330.19 L97.00,329.98 L97.50,329.77 L98.00,329.54 L98.50,329.30 L99.00,329.05 L99.50,328.79 L100.00,328.51 L100.50,328.22 L101.00,327.92 L101.50,327.61 L102.00,327.28 L102.50,326.94 L103.00,326.59 L103.50,326.22 L104.00,325.84 L104.50,325.45 L105.00,325.04 L105.50,324.62 L106.00,324.19 L106.50,323.75 L107.00,323.29 L107.50,322.83 L108.00,322.35 L108.50,321.87 L109.00,321.38 L109.50,320.87 L110.00,320.36 L110.50,319.84 L111.00,319.32 L111.50,318.79 L112.00,318.26 L112.50,317.73 L113.00,317.19 L113.50,316.65 L114.00,316.11 L114.50,315.58 L115.00,315.05 L115.50,314.52 L116.00,313.99 L116.50,313.48 L117.00,312.97 L117.50,312.47 L118.00,311.99 L118.50,311.51 L119.00,311.05 L119.50,310.61 L120.00,310.18 L120.50,309.76 L121.00,309.37 L121.50,309.00 L122.00,308.65 L122.50,308.32 L123.00,308.01 L123.50,307.73 L124.00,307.47 L124.50,307.24 L125.00,307.04 L125.50,306.86 L126.00,306.71 L126.50,306.59 L127.00,306.50 L127.50,306.44 L128.00,306.41 L128.50,306.40 L129.00,306.43 L129.50,306.48 L130.00,306.57 L130.50,306.68 L131.00,306.83 L131.50,307.00 L132.00,307.20 L132.50,307.42 L133.00,307.67 L133.50,307.95 L134.00,308.25 L134.50,308.58 L135.00,308.93 L135.50,309.29 L136.00,309.68 L136.50,310.09 L137.00,310.52 L137.50,310.96 L138.00,311.42 L138.50,311.89 L139.00,312.38 L139.50,312.87 L140.00,313.38 L140.50,313.89 L141.00,314.41 L141.50,314.94 L142.00,315.47 L142.50,316.01 L143.00,316.54 L143.50,317.08 L144.00,317.62 L144.50,318.15 L145.00,318.69 L145.50,319.22 L146.00,319.74 L146.50,320.26 L147.00,320.77 L147.50,321.28 L148.00,321.77 L148.50,322.26 L149.00,322.74 L149.50,323.20 L150.00,323.66 L150.50,324.10 L151.00,324.54 L151.50,324.96 L152.00,325.37 L152.50,325.76 L153.00,326.14 L153.50,326.51 L154.00,326.87 L154.50,327.21 L155.00,327.54 L155.50,327.86 L156.00,328.17 L156.50,328.46 L157.00,328.73 L157.50,329.00 L158.00,329.25 L158.50,329.50 L159.00,329.72 L159.50,329.94 L160.00,330.15 L160.50,330.34 L161.00,330.53 L161.50,330.70 L162.00,330.87 L162.50,331.02 L163.00,331.17 L163.50,331.31 L164.00,331.43 L164.50,331.55 L165.00,331.67 L165.50,331.77 L166.00,331.87 L166.50,331.96 L167.00,332.05 L167.50,332.13 L168.00,332.20 L168.50,332.27 L169.00,332.33 L169.50,332.39 L170.00,332.44 L170.50,332.49 L171.00,332.54 L171.50,332.58" fill="none" stroke="#00dcf2" stroke-width="1.40" stroke-opacity="1.00" stroke-linejoin="round"/>
<path d="M62.00,332.97 L62.50,332.96 L63.00,332.96 L63.50,332.95 L64.00,332.95 L64.50,332.94 L65.00,332.93 L65.50,332.93 L66.00,332.92 L66.50,332.91 L67.00,332.90 L67.50,332.88 L68.00,332.87 L68.50,332.86 L69.00,332.84 L69.50,332.82 L70.00,332.80 L70.50,332.78 L71.00,332.76 L71.50,332.74 L72.00,332.71 L72.50,332.68 L73.00,332.65 L73.50,332.62 L74.00,332.58 L74.50,332.54 L75.00,332.50 L75.50,332.46 L76.00,332.41 L76.50,332.36 L77.00,332.31 L77.50,332.25 L78.00,332.19 L78.50,332.12 L79.00,332.06 L79.50,331.98 L80.00,331.91 L80.50,331.83 L81.00,331.75 L81.50,331.66 L82.00,331.57 L82.50,331.47 L83.00,331.37 L83.50,331.27 L84.00,331.16 L84.50,331.05 L85.00,330.94 L85.50,330.82 L86.00,330.70 L86.50,330.58 L87.00,330.45 L87.50,330.32 L88.00,330.19 L88.50,330.05 L89.00,329.92 L89.50,329.78 L90.00,329.64 L90.50,329.50 L91.00,329.36 L91.50,329.22 L92.00,329.08 L92.50,328.94 L93.00,328.81 L93.50,328.67 L94.00,328.54 L94.50,328.41 L95.00,328.28 L95.50,328.15 L96.00,328.04 L96.50,327.92 L97.00,327.81 L97.50,327.71 L98.00,327.61 L98.50,327.51 L99.00,327.43 L99.50,327.35 L100.00,327.28 L100.50,327.21 L101.00,327.16 L101.50,327.11 L102.00,327.07 L102.50,327.04 L103.00,327.02 L103.50,327.00 L104.00,327.00 L104.50,327.00 L105.00,327.02 L105.50,327.04 L106.00,327.07 L106.50,327.11 L107.00,327.16 L107.50,327.21 L108.00,327.28 L108.50,327.35 L109.00,327.43 L109.50,327.51 L110.00,327.61 L110.50,327.71 L111.00,327.81 L111.50,327.92 L112.00,328.04 L112.50,328.15 L113.00,328.28 L113.50,328.41 L114.00,328.54 L114.50,328.67 L115.00,328.81 L115.50,328.94 L116.00,329.08 L116.50,329.22 L117.00,329.36 L117.50,329.50 L118.00,329.64 L118.50,329.78 L119.00,329.92 L119.50,330.05 L120.00,330.19 L120.50,330.32 L121.00,330.45 L121.50,330.58 L122.00,330.70 L122.50,330.82 L123.00,330.94 L123.50,331.05 L124.00,331.16 L124.50,331.27 L125.00,331.37 L125.50,331.47 L126.00,331.57 L126.50,331.66 L127.00,331.75 L127.50,331.83 L128.00,331.91 L128.50,331.98 L129.00,332.06 L129.50,332.12 L130.00,332.19 L130.50,332.25 L131.00,332.31 L131.50,332.36 L132.00,332.41 L132.50,332.46 L133.00,332.50 L133.50,332.54 L134.00,332.58 L134.50,332.62 L135.00,332.65 L135.50,332.68 L136.00,332.71 L136.50,332.74 L137.00,332.76 L137.50,332.78 L138.00,332.80 L138.50,332.82 L139.00,332.84 L139.50,332.86 L140.00,332.87 L140.50,332.88 L141.00,332.90 L141.50,332.91 L142.00,332.92 L142.50,332.93 L143.00,332.93 L143.50,332.94 L144.00,332.95 L144.50,332.95 L145.00,332.96 L145.50,332.96 L146.00,332.97 L146.50,332.97 L147.00,332.97 L147.50,332.98 L148.00,332.98 L148.50,332.98 L149.00,332.98 L149.50,332.99 L150.00,332.99 L150.00,333.00 L62.00,333.00 Z" fill="url(#g10)"/>
<path d="M72.50,332.68 L73.00,332.65 L73.50,332.62 L74.00,332.58 L74.50,332.54 L75.00,332.50 L75.50,332.46 L76.00,332.41 L76.50,332.36 L77.00,332.31 L77.50,332.25 L78.00,332.19 L78.50,332.12 L79.00,332.06 L79.50,331.98 L80.00,331.91 L80.50,331.83 L81.00,331.75 L81.50,331.66 L82.00,331.57 L82.50,331.47 L83.00,331.37 L83.50,331.27 L84.00,331.16 L84.50,331.05 L85.00,330.94 L85.50,330.82 L86.00,330.70 L86.50,330.58 L87.00,330.45 L87.50,330.32 L88.00,330.19 L88.50,330.05 L89.00,329.92 L89.50,329.78 L90.00,329.64 L90.50,329.50 L91.00,329.36 L91.50,329.22 L92.00,329.08 L92.50,328.94 L93.00,328.81 L93.50,328.67 L94.00,328.54 L94.50,328.41 L95.00,328.28 L95.50,328.15 L96.00,328.04 L96.50,327.92 L97.00,327.81 L97.50,327.71 L98.00,327.61 L98.50,327.51 L99.00,327.43 L99.50,327.35 L100.00,327.28 L100.50,327.21 L101.00,327.16 L101.50,327.11 L102.00,327.07 L102.50,327.04 L103.00,327.02 L103.50,327.00 L104.00,327.00 L104.50,327.00 L105.00,327.02 L105.50,327.04 L106.00,327.07 L106.50,327.11 L107.00,327.16 L107.50,327.21 L108.00,327.28 L108.50,327.35 L109.00,327.43 L109.50,327.51 L110.00,327.61 L110.50,327.71 L111.00,327.81 L111.50,327.92 L112.00,328.04 L112.50,328.15 L113.00,328.28 L113.50,328.41 L114.00,328.54 L114.50,328.67 L115.00,328.81 L115.50,328.94 L116.00,329.08 L116.50,329.22 L117.00,329.36 L117.50,329.50 L118.00,329.64 L118.50,329.78 L119.00,329.92 L119.50,330.05 L120.00,330.19 L120.50,330.32 L121.00,330.45 L121.50,330.58 L122.00,330.70 L122.50,330.82 L123.00,330.94 L123.50,331.05 L124.00,331.16 L124.50,331.27 L125.00,331.37 L125.50,331.47 L126.00,331.57 L126.50,331.66 L127.00,331.75 L127.50,331.83 L128.00,331.91 L128.50,331.98 L129.00,332.06 L129.50,332.12 L130.00,332.19 L130.50,332.25 L131.00,332.31 L131.50,332.36 L132.00,332.41 L132.50,332.46 L133.00,332.50 L133.50,332.54 L134.00,332.58 L134.50,332.62 L135.00,332.65 L135.50,332.68" fill="none" stroke="#ff6ec4" stroke-width="1.10" stroke-opacity="1.00" stroke-linejoin="round"/>
<path d="M60.00,333.10 L269.00,333.10" fill="none" stroke="#c58be8" stroke-width="1.3"/>
<path d="M16.60,333.60 C20.50,333.60 32.77,333.67 40.00,333.60 C47.23,333.53 54.70,333.42 60.00,333.20 C65.30,332.98 68.02,332.92 71.80,332.30 C75.58,331.68 79.42,330.42 82.70,329.50 C85.98,328.58 88.77,327.97 91.50,326.80 C94.23,325.63 96.93,324.10 99.10,322.50 C101.27,320.90 102.68,319.15 104.50,317.20 C106.32,315.25 108.65,312.63 110.00,310.80 C111.35,308.97 111.10,309.00 112.60,306.20 C114.10,303.40 117.02,297.85 119.00,294.00 C120.98,290.15 122.82,286.43 124.50,283.10 C126.18,279.77 127.58,276.88 129.10,274.00 C130.62,271.12 132.08,268.22 133.60,265.80 C135.12,263.38 136.68,261.55 138.20,259.50 C139.72,257.45 141.03,255.02 142.70,253.50 C144.37,251.98 146.38,250.70 148.20,250.40 C150.02,250.10 152.05,250.85 153.60,251.70 C155.15,252.55 155.87,253.53 157.50,255.50 C159.13,257.47 161.58,260.33 163.40,263.50 C165.22,266.67 166.73,270.62 168.40,274.50 C170.07,278.38 171.73,282.80 173.40,286.80 C175.07,290.80 176.73,294.60 178.40,298.50 C180.07,302.40 181.73,306.58 183.40,310.20 C185.07,313.82 186.45,317.28 188.40,320.20 C190.35,323.12 192.33,325.80 195.10,327.70 C197.87,329.60 201.68,330.67 205.00,331.60 C208.32,332.53 204.17,332.88 215.00,333.30 C225.83,333.72 260.83,333.97 270.00,334.10" fill="none" stroke="#d69a26" stroke-width="1.3"/>
<text x="20.27" y="327.40" font-size="7.25" font-weight="bold" fill="#111" font-family="Liberation Sans, sans-serif" textLength="32.06" lengthAdjust="spacingAndGlyphs" stroke="#111" stroke-width="0.30" stroke-linejoin="round">EVA/ATH</text>
<text x="52.42" y="317.40" font-size="8.12" font-weight="normal" fill="#ff72c2" font-family="Liberation Sans, sans-serif" textLength="15.79" lengthAdjust="spacingAndGlyphs" stroke="#ff72c2" stroke-width="0.35" stroke-linejoin="round">C=O</text>
<line x1="68.60" y1="317.00" x2="93.70" y2="325.84" stroke="#222" stroke-width="0.90"/>
<path d="M97.00,327.00 L92.16,327.20 L93.35,323.81 Z" fill="#222"/>
<text x="75.81" y="301.40" font-size="8.70" font-weight="normal" fill="#08d8f0" font-family="Liberation Sans, sans-serif" textLength="14.41" lengthAdjust="spacingAndGlyphs" stroke="#08d8f0" stroke-width="0.35" stroke-linejoin="round">C-O</text>
<line x1="91.60" y1="300.50" x2="117.39" y2="306.33" stroke="#222" stroke-width="0.90"/>
<path d="M120.80,307.10 L116.01,307.86 L116.81,304.35 Z" fill="#222"/>
<text x="100.30" y="255.90" font-size="7.54" font-weight="normal" fill="#2edc62" font-family="Liberation Sans, sans-serif" textLength="14.56" lengthAdjust="spacingAndGlyphs" stroke="#2edc62" stroke-width="0.35" stroke-linejoin="round">Al-O</text>
<line x1="117.00" y1="255.40" x2="143.86" y2="260.63" stroke="#222" stroke-width="0.90"/>
<path d="M147.30,261.30 L142.54,262.21 L143.23,258.67 Z" fill="#222"/>
<path d="M110.00,432.75 L110.50,432.72 L111.00,432.68 L111.50,432.65 L112.00,432.61 L112.50,432.56 L113.00,432.52 L113.50,432.46 L114.00,432.41 L114.50,432.35 L115.00,432.28 L115.50,432.20 L116.00,432.12 L116.50,432.03 L117.00,431.94 L117.50,431.84 L118.00,431.72 L118.50,431.60 L119.00,431.47 L119.50,431.33 L120.00,431.18 L120.50,431.02 L121.00,430.85 L121.50,430.66 L122.00,430.46 L122.50,430.25 L123.00,430.02 L123.50,429.78 L124.00,429.52 L124.50,429.25 L125.00,428.96 L125.50,428.65 L126.00,428.33 L126.50,427.98 L127.00,427.62 L127.50,427.24 L128.00,426.84 L128.50,426.42 L129.00,425.98 L129.50,425.52 L130.00,425.04 L130.50,424.54 L131.00,424.02 L131.50,423.48 L132.00,422.92 L132.50,422.33 L133.00,421.73 L133.50,421.11 L134.00,420.47 L134.50,419.81 L135.00,419.14 L135.50,418.44 L136.00,417.73 L136.50,417.01 L137.00,416.27 L137.50,415.52 L138.00,414.76 L138.50,413.99 L139.00,413.21 L139.50,412.42 L140.00,411.63 L140.50,410.83 L141.00,410.03 L141.50,409.24 L142.00,408.44 L142.50,407.65 L143.00,406.87 L143.50,406.10 L144.00,405.33 L144.50,404.58 L145.00,403.85 L145.50,403.13 L146.00,402.43 L146.50,401.75 L147.00,401.10 L147.50,400.47 L148.00,399.88 L148.50,399.31 L149.00,398.77 L149.50,398.27 L150.00,397.81 L150.50,397.38 L151.00,396.99 L151.50,396.64 L152.00,396.33 L152.50,396.06 L153.00,395.84 L153.50,395.66 L154.00,395.53 L154.50,395.45 L155.00,395.40 L155.50,395.41 L156.00,395.46 L156.50,395.56 L157.00,395.70 L157.50,395.88 L158.00,396.11 L158.50,396.39 L159.00,396.70 L159.50,397.06 L160.00,397.46 L160.50,397.90 L161.00,398.37 L161.50,398.88 L162.00,399.42 L162.50,399.99 L163.00,400.60 L163.50,401.23 L164.00,401.89 L164.50,402.57 L165.00,403.27 L165.50,403.99 L166.00,404.73 L166.50,405.48 L167.00,406.25 L167.50,407.03 L168.00,407.81 L168.50,408.60 L169.00,409.40 L169.50,410.19 L170.00,410.99 L170.50,411.79 L171.00,412.58 L171.50,413.36 L172.00,414.14 L172.50,414.91 L173.00,415.67 L173.50,416.42 L174.00,417.16 L174.50,417.88 L175.00,418.58 L175.50,419.27 L176.00,419.95 L176.50,420.60 L177.00,421.24 L177.50,421.85 L178.00,422.45 L178.50,423.03 L179.00,423.59 L179.50,424.13 L180.00,424.64 L180.50,425.14 L181.00,425.62 L181.50,426.07 L182.00,426.51 L182.50,426.92 L183.00,427.32 L183.50,427.69 L184.00,428.05 L184.50,428.39 L185.00,428.71 L185.50,429.02 L186.00,429.30 L186.50,429.57 L187.00,429.83 L187.50,430.07 L188.00,430.29 L188.50,430.50 L189.00,430.70 L189.50,430.88 L190.00,431.05 L190.50,431.21 L191.00,431.36 L191.50,431.50 L192.00,431.63 L192.50,431.75 L193.00,431.86 L193.50,431.96 L194.00,432.05 L194.50,432.14 L195.00,432.22 L195.50,432.29 L196.00,432.36 L196.50,432.42 L197.00,432.48 L197.50,432.53 L198.00,432.57 L198.50,432.62 L199.00,432.65 L199.50,432.69 L200.00,432.72 L200.50,432.75 L201.00,432.78 L201.50,432.80 L202.00,432.82 L202.50,432.84 L203.00,432.86 L203.50,432.87 L204.00,432.89 L204.50,432.90 L205.00,432.91 L205.50,432.92 L206.00,432.93 L206.50,432.94 L207.00,432.95 L207.50,432.95 L208.00,432.96 L208.50,432.96 L209.00,432.97 L209.50,432.97 L210.00,432.98 L210.00,433.00 L110.00,433.00 Z" fill="url(#g11)"/>
<path d="M111.00,432.68 L111.50,432.65 L112.00,432.61 L112.50,432.56 L113.00,432.52 L113.50,432.46 L114.00,432.41 L114.50,432.35 L115.00,432.28 L115.50,432.20 L116.00,432.12 L116.50,432.03 L117.00,431.94 L117.50,431.84 L118.00,431.72 L118.50,431.60 L119.00,431.47 L119.50,431.33 L120.00,431.18 L120.50,431.02 L121.00,430.85 L121.50,430.66 L122.00,430.46 L122.50,430.25 L123.00,430.02 L123.50,429.78 L124.00,429.52 L124.50,429.25 L125.00,428.96 L125.50,428.65 L126.00,428.33 L126.50,427.98 L127.00,427.62 L127.50,427.24 L128.00,426.84 L128.50,426.42 L129.00,425.98 L129.50,425.52 L130.00,425.04 L130.50,424.54 L131.00,424.02 L131.50,423.48 L132.00,422.92 L132.50,422.33 L133.00,421.73 L133.50,421.11 L134.00,420.47 L134.50,419.81 L135.00,419.14 L135.50,418.44 L136.00,417.73 L136.50,417.01 L137.00,416.27 L137.50,415.52 L138.00,414.76 L138.50,413.99 L139.00,413.21 L139.50,412.42 L140.00,411.63 L140.50,410.83 L141.00,410.03 L141.50,409.24 L142.00,408.44 L142.50,407.65 L143.00,406.87 L143.50,406.10 L144.00,405.33 L144.50,404.58 L145.00,403.85 L145.50,403.13 L146.00,402.43 L146.50,401.75 L147.00,401.10 L147.50,400.47 L148.00,399.88 L148.50,399.31 L149.00,398.77 L149.50,398.27 L150.00,397.81 L150.50,397.38 L151.00,396.99 L151.50,396.64 L152.00,396.33 L152.50,396.06 L153.00,395.84 L153.50,395.66 L154.00,395.53 L154.50,395.45 L155.00,395.40 L155.50,395.41 L156.00,395.46 L156.50,395.56 L157.00,395.70 L157.50,395.88 L158.00,396.11 L158.50,396.39 L159.00,396.70 L159.50,397.06 L160.00,397.46 L160.50,397.90 L161.00,398.37 L161.50,398.88 L162.00,399.42 L162.50,399.99 L163.00,400.60 L163.50,401.23 L164.00,401.89 L164.50,402.57 L165.00,403.27 L165.50,403.99 L166.00,404.73 L166.50,405.48 L167.00,406.25 L167.50,407.03 L168.00,407.81 L168.50,408.60 L169.00,409.40 L169.50,410.19 L170.00,410.99 L170.50,411.79 L171.00,412.58 L171.50,413.36 L172.00,414.14 L172.50,414.91 L173.00,415.67 L173.50,416.42 L174.00,417.16 L174.50,417.88 L175.00,418.58 L175.50,419.27 L176.00,419.95 L176.50,420.60 L177.00,421.24 L177.50,421.85 L178.00,422.45 L178.50,423.03 L179.00,423.59 L179.50,424.13 L180.00,424.64 L180.50,425.14 L181.00,425.62 L181.50,426.07 L182.00,426.51 L182.50,426.92 L183.00,427.32 L183.50,427.69 L184.00,428.05 L184.50,428.39 L185.00,428.71 L185.50,429.02 L186.00,429.30 L186.50,429.57 L187.00,429.83 L187.50,430.07 L188.00,430.29 L188.50,430.50 L189.00,430.70 L189.50,430.88 L190.00,431.05 L190.50,431.21 L191.00,431.36 L191.50,431.50 L192.00,431.63 L192.50,431.75 L193.00,431.86 L193.50,431.96 L194.00,432.05 L194.50,432.14 L195.00,432.22 L195.50,432.29 L196.00,432.36 L196.50,432.42 L197.00,432.48 L197.50,432.53 L198.00,432.57 L198.50,432.62 L199.00,432.65 L199.50,432.69" fill="none" stroke="#8ee89a" stroke-width="0.60" stroke-opacity="0.60" stroke-linejoin="round"/>
<path d="M70.00,432.92 L70.50,432.91 L71.00,432.89 L71.50,432.88 L72.00,432.87 L72.50,432.85 L73.00,432.84 L73.50,432.82 L74.00,432.80 L74.50,432.77 L75.00,432.75 L75.50,432.72 L76.00,432.69 L76.50,432.66 L77.00,432.63 L77.50,432.59 L78.00,432.55 L78.50,432.50 L79.00,432.46 L79.50,432.40 L80.00,432.35 L80.50,432.29 L81.00,432.22 L81.50,432.15 L82.00,432.08 L82.50,432.00 L83.00,431.91 L83.50,431.82 L84.00,431.72 L84.50,431.62 L85.00,431.51 L85.50,431.39 L86.00,431.26 L86.50,431.13 L87.00,430.99 L87.50,430.85 L88.00,430.69 L88.50,430.53 L89.00,430.36 L89.50,430.18 L90.00,430.00 L90.50,429.80 L91.00,429.60 L91.50,429.39 L92.00,429.17 L92.50,428.94 L93.00,428.71 L93.50,428.46 L94.00,428.21 L94.50,427.96 L95.00,427.69 L95.50,427.42 L96.00,427.14 L96.50,426.86 L97.00,426.57 L97.50,426.28 L98.00,425.98 L98.50,425.68 L99.00,425.37 L99.50,425.07 L100.00,424.76 L100.50,424.45 L101.00,424.14 L101.50,423.83 L102.00,423.52 L102.50,423.22 L103.00,422.92 L103.50,422.62 L104.00,422.32 L104.50,422.04 L105.00,421.76 L105.50,421.49 L106.00,421.22 L106.50,420.97 L107.00,420.72 L107.50,420.49 L108.00,420.27 L108.50,420.06 L109.00,419.87 L109.50,419.69 L110.00,419.52 L110.50,419.38 L111.00,419.24 L111.50,419.13 L112.00,419.03 L112.50,418.95 L113.00,418.88 L113.50,418.84 L114.00,418.81 L114.50,418.80 L115.00,418.81 L115.50,418.84 L116.00,418.88 L116.50,418.95 L117.00,419.03 L117.50,419.13 L118.00,419.24 L118.50,419.38 L119.00,419.52 L119.50,419.69 L120.00,419.87 L120.50,420.06 L121.00,420.27 L121.50,420.49 L122.00,420.72 L122.50,420.97 L123.00,421.22 L123.50,421.49 L124.00,421.76 L124.50,422.04 L125.00,422.32 L125.50,422.62 L126.00,422.92 L126.50,423.22 L127.00,423.52 L127.50,423.83 L128.00,424.14 L128.50,424.45 L129.00,424.76 L129.50,425.07 L130.00,425.37 L130.50,425.68 L131.00,425.98 L131.50,426.28 L132.00,426.57 L132.50,426.86 L133.00,427.14 L133.50,427.42 L134.00,427.69 L134.50,427.96 L135.00,428.21 L135.50,428.46 L136.00,428.71 L136.50,428.94 L137.00,429.17 L137.50,429.39 L138.00,429.60 L138.50,429.80 L139.00,430.00 L139.50,430.18 L140.00,430.36 L140.50,430.53 L141.00,430.69 L141.50,430.85 L142.00,430.99 L142.50,431.13 L143.00,431.26 L143.50,431.39 L144.00,431.51 L144.50,431.62 L145.00,431.72 L145.50,431.82 L146.00,431.91 L146.50,432.00 L147.00,432.08 L147.50,432.15 L148.00,432.22 L148.50,432.29 L149.00,432.35 L149.50,432.40 L150.00,432.46 L150.50,432.50 L151.00,432.55 L151.50,432.59 L152.00,432.63 L152.50,432.66 L153.00,432.69 L153.50,432.72 L154.00,432.75 L154.50,432.77 L155.00,432.80 L155.50,432.82 L156.00,432.84 L156.50,432.85 L157.00,432.87 L157.50,432.88 L158.00,432.89 L158.50,432.91 L159.00,432.92 L159.50,432.92 L160.00,432.93 L160.50,432.94 L161.00,432.95 L161.50,432.95 L162.00,432.96 L162.50,432.96 L163.00,432.97 L163.50,432.97 L164.00,432.97 L164.50,432.98 L165.00,432.98 L165.50,432.98 L166.00,432.99 L166.50,432.99 L167.00,432.99 L167.50,432.99 L168.00,432.99 L168.50,432.99 L169.00,432.99 L169.50,432.99 L170.00,433.00 L170.00,433.00 L70.00,433.00 Z" fill="url(#g12)"/>
<path d="M76.00,432.69 L76.50,432.66 L77.00,432.63 L77.50,432.59 L78.00,432.55 L78.50,432.50 L79.00,432.46 L79.50,432.40 L80.00,432.35 L80.50,432.29 L81.00,432.22 L81.50,432.15 L82.00,432.08 L82.50,432.00 L83.00,431.91 L83.50,431.82 L84.00,431.72 L84.50,431.62 L85.00,431.51 L85.50,431.39 L86.00,431.26 L86.50,431.13 L87.00,430.99 L87.50,430.85 L88.00,430.69 L88.50,430.53 L89.00,430.36 L89.50,430.18 L90.00,430.00 L90.50,429.80 L91.00,429.60 L91.50,429.39 L92.00,429.17 L92.50,428.94 L93.00,428.71 L93.50,428.46 L94.00,428.21 L94.50,427.96 L95.00,427.69 L95.50,427.42 L96.00,427.14 L96.50,426.86 L97.00,426.57 L97.50,426.28 L98.00,425.98 L98.50,425.68 L99.00,425.37 L99.50,425.07 L100.00,424.76 L100.50,424.45 L101.00,424.14 L101.50,423.83 L102.00,423.52 L102.50,423.22 L103.00,422.92 L103.50,422.62 L104.00,422.32 L104.50,422.04 L105.00,421.76 L105.50,421.49 L106.00,421.22 L106.50,420.97 L107.00,420.72 L107.50,420.49 L108.00,420.27 L108.50,420.06 L109.00,419.87 L109.50,419.69 L110.00,419.52 L110.50,419.38 L111.00,419.24 L111.50,419.13 L112.00,419.03 L112.50,418.95 L113.00,418.88 L113.50,418.84 L114.00,418.81 L114.50,418.80 L115.00,418.81 L115.50,418.84 L116.00,418.88 L116.50,418.95 L117.00,419.03 L117.50,419.13 L118.00,419.24 L118.50,419.38 L119.00,419.52 L119.50,419.69 L120.00,419.87 L120.50,420.06 L121.00,420.27 L121.50,420.49 L122.00,420.72 L122.50,420.97 L123.00,421.22 L123.50,421.49 L124.00,421.76 L124.50,422.04 L125.00,422.32 L125.50,422.62 L126.00,422.92 L126.50,423.22 L127.00,423.52 L127.50,423.83 L128.00,424.14 L128.50,424.45 L129.00,424.76 L129.50,425.07 L130.00,425.37 L130.50,425.68 L131.00,425.98 L131.50,426.28 L132.00,426.57 L132.50,426.86 L133.00,427.14 L133.50,427.42 L134.00,427.69 L134.50,427.96 L135.00,428.21 L135.50,428.46 L136.00,428.71 L136.50,428.94 L137.00,429.17 L137.50,429.39 L138.00,429.60 L138.50,429.80 L139.00,430.00 L139.50,430.18 L140.00,430.36 L140.50,430.53 L141.00,430.69 L141.50,430.85 L142.00,430.99 L142.50,431.13 L143.00,431.26 L143.50,431.39 L144.00,431.51 L144.50,431.62 L145.00,431.72 L145.50,431.82 L146.00,431.91 L146.50,432.00 L147.00,432.08 L147.50,432.15 L148.00,432.22 L148.50,432.29 L149.00,432.35 L149.50,432.40 L150.00,432.46 L150.50,432.50 L151.00,432.55 L151.50,432.59 L152.00,432.63 L152.50,432.66 L153.00,432.69" fill="none" stroke="#ff9ad4" stroke-width="1.00" stroke-opacity="1.00" stroke-linejoin="round"/>
<path d="M75.00,432.93 L75.50,432.92 L76.00,432.91 L76.50,432.90 L77.00,432.89 L77.50,432.88 L78.00,432.86 L78.50,432.85 L79.00,432.83 L79.50,432.82 L80.00,432.80 L80.50,432.78 L81.00,432.75 L81.50,432.73 L82.00,432.70 L82.50,432.67 L83.00,432.64 L83.50,432.61 L84.00,432.57 L84.50,432.53 L85.00,432.49 L85.50,432.45 L86.00,432.40 L86.50,432.35 L87.00,432.29 L87.50,432.23 L88.00,432.17 L88.50,432.10 L89.00,432.03 L89.50,431.95 L90.00,431.87 L90.50,431.78 L91.00,431.69 L91.50,431.59 L92.00,431.49 L92.50,431.38 L93.00,431.26 L93.50,431.14 L94.00,431.02 L94.50,430.88 L95.00,430.74 L95.50,430.60 L96.00,430.44 L96.50,430.28 L97.00,430.11 L97.50,429.94 L98.00,429.76 L98.50,429.57 L99.00,429.38 L99.50,429.18 L100.00,428.97 L100.50,428.75 L101.00,428.53 L101.50,428.30 L102.00,428.07 L102.50,427.83 L103.00,427.59 L103.50,427.34 L104.00,427.08 L104.50,426.82 L105.00,426.56 L105.50,426.29 L106.00,426.02 L106.50,425.74 L107.00,425.47 L107.50,425.19 L108.00,424.91 L108.50,424.63 L109.00,424.34 L109.50,424.06 L110.00,423.78 L110.50,423.51 L111.00,423.23 L111.50,422.96 L112.00,422.69 L112.50,422.43 L113.00,422.17 L113.50,421.92 L114.00,421.67 L114.50,421.44 L115.00,421.21 L115.50,420.99 L116.00,420.77 L116.50,420.57 L117.00,420.38 L117.50,420.20 L118.00,420.04 L118.50,419.88 L119.00,419.74 L119.50,419.61 L120.00,419.49 L120.50,419.39 L121.00,419.31 L121.50,419.24 L122.00,419.18 L122.50,419.14 L123.00,419.11 L123.50,419.10 L124.00,419.10 L124.50,419.12 L125.00,419.16 L125.50,419.21 L126.00,419.28 L126.50,419.36 L127.00,419.45 L127.50,419.56 L128.00,419.69 L128.50,419.82 L129.00,419.97 L129.50,420.13 L130.00,420.31 L130.50,420.50 L131.00,420.69 L131.50,420.90 L132.00,421.12 L132.50,421.34 L133.00,421.58 L133.50,421.82 L134.00,422.07 L134.50,422.33 L135.00,422.59 L135.50,422.85 L136.00,423.12 L136.50,423.40 L137.00,423.67 L137.50,423.95 L138.00,424.23 L138.50,424.51 L139.00,424.79 L139.50,425.07 L140.00,425.35 L140.50,425.63 L141.00,425.91 L141.50,426.18 L142.00,426.45 L142.50,426.72 L143.00,426.98 L143.50,427.23 L144.00,427.49 L144.50,427.73 L145.00,427.98 L145.50,428.21 L146.00,428.44 L146.50,428.67 L147.00,428.88 L147.50,429.09 L148.00,429.30 L148.50,429.50 L149.00,429.69 L149.50,429.87 L150.00,430.05 L150.50,430.22 L151.00,430.38 L151.50,430.54 L152.00,430.68 L152.50,430.83 L153.00,430.96 L153.50,431.09 L154.00,431.22 L154.50,431.33 L155.00,431.45 L155.50,431.55 L156.00,431.65 L156.50,431.75 L157.00,431.83 L157.50,431.92 L158.00,432.00 L158.50,432.07 L159.00,432.14 L159.50,432.21 L160.00,432.27 L160.50,432.33 L161.00,432.38 L161.50,432.43 L162.00,432.48 L162.50,432.52 L163.00,432.56 L163.50,432.60 L164.00,432.63 L164.50,432.66 L165.00,432.69 L165.50,432.72 L166.00,432.74 L166.50,432.77 L167.00,432.79 L167.50,432.81 L168.00,432.83 L168.50,432.84 L169.00,432.86 L169.50,432.87 L170.00,432.88 L170.50,432.90 L171.00,432.91 L171.50,432.92 L172.00,432.92 L172.50,432.93 L173.00,432.94 L173.50,432.95 L174.00,432.95 L174.50,432.96 L175.00,432.96 L175.00,433.00 L75.00,433.00 Z" fill="url(#g13)"/>
<path d="M82.50,432.67 L83.00,432.64 L83.50,432.61 L84.00,432.57 L84.50,432.53 L85.00,432.49 L85.50,432.45 L86.00,432.40 L86.50,432.35 L87.00,432.29 L87.50,432.23 L88.00,432.17 L88.50,432.10 L89.00,432.03 L89.50,431.95 L90.00,431.87 L90.50,431.78 L91.00,431.69 L91.50,431.59 L92.00,431.49 L92.50,431.38 L93.00,431.26 L93.50,431.14 L94.00,431.02 L94.50,430.88 L95.00,430.74 L95.50,430.60 L96.00,430.44 L96.50,430.28 L97.00,430.11 L97.50,429.94 L98.00,429.76 L98.50,429.57 L99.00,429.38 L99.50,429.18 L100.00,428.97 L100.50,428.75 L101.00,428.53 L101.50,428.30 L102.00,428.07 L102.50,427.83 L103.00,427.59 L103.50,427.34 L104.00,427.08 L104.50,426.82 L105.00,426.56 L105.50,426.29 L106.00,426.02 L106.50,425.74 L107.00,425.47 L107.50,425.19 L108.00,424.91 L108.50,424.63 L109.00,424.34 L109.50,424.06 L110.00,423.78 L110.50,423.51 L111.00,423.23 L111.50,422.96 L112.00,422.69 L112.50,422.43 L113.00,422.17 L113.50,421.92 L114.00,421.67 L114.50,421.44 L115.00,421.21 L115.50,420.99 L116.00,420.77 L116.50,420.57 L117.00,420.38 L117.50,420.20 L118.00,420.04 L118.50,419.88 L119.00,419.74 L119.50,419.61 L120.00,419.49 L120.50,419.39 L121.00,419.31 L121.50,419.24 L122.00,419.18 L122.50,419.14 L123.00,419.11 L123.50,419.10 L124.00,419.10 L124.50,419.12 L125.00,419.16 L125.50,419.21 L126.00,419.28 L126.50,419.36 L127.00,419.45 L127.50,419.56 L128.00,419.69 L128.50,419.82 L129.00,419.97 L129.50,420.13 L130.00,420.31 L130.50,420.50 L131.00,420.69 L131.50,420.90 L132.00,421.12 L132.50,421.34 L133.00,421.58 L133.50,421.82 L134.00,422.07 L134.50,422.33 L135.00,422.59 L135.50,422.85 L136.00,423.12 L136.50,423.40 L137.00,423.67 L137.50,423.95 L138.00,424.23 L138.50,424.51 L139.00,424.79 L139.50,425.07 L140.00,425.35 L140.50,425.63 L141.00,425.91 L141.50,426.18 L142.00,426.45 L142.50,426.72 L143.00,426.98 L143.50,427.23 L144.00,427.49 L144.50,427.73 L145.00,427.98 L145.50,428.21 L146.00,428.44 L146.50,428.67 L147.00,428.88 L147.50,429.09 L148.00,429.30 L148.50,429.50 L149.00,429.69 L149.50,429.87 L150.00,430.05 L150.50,430.22 L151.00,430.38 L151.50,430.54 L152.00,430.68 L152.50,430.83 L153.00,430.96 L153.50,431.09 L154.00,431.22 L154.50,431.33 L155.00,431.45 L155.50,431.55 L156.00,431.65 L156.50,431.75 L157.00,431.83 L157.50,431.92 L158.00,432.00 L158.50,432.07 L159.00,432.14 L159.50,432.21 L160.00,432.27 L160.50,432.33 L161.00,432.38 L161.50,432.43 L162.00,432.48 L162.50,432.52 L163.00,432.56 L163.50,432.60 L164.00,432.63 L164.50,432.66 L165.00,432.69" fill="none" stroke="#f0b8d8" stroke-width="0.70" stroke-opacity="0.70" stroke-linejoin="round"/>
<path d="M92.00,432.81 L92.50,432.79 L93.00,432.76 L93.50,432.73 L94.00,432.70 L94.50,432.67 L95.00,432.63 L95.50,432.59 L96.00,432.55 L96.50,432.50 L97.00,432.44 L97.50,432.39 L98.00,432.32 L98.50,432.26 L99.00,432.18 L99.50,432.10 L100.00,432.01 L100.50,431.92 L101.00,431.82 L101.50,431.71 L102.00,431.59 L102.50,431.46 L103.00,431.33 L103.50,431.18 L104.00,431.03 L104.50,430.86 L105.00,430.68 L105.50,430.50 L106.00,430.30 L106.50,430.08 L107.00,429.86 L107.50,429.62 L108.00,429.37 L108.50,429.11 L109.00,428.83 L109.50,428.54 L110.00,428.23 L110.50,427.91 L111.00,427.58 L111.50,427.23 L112.00,426.87 L112.50,426.49 L113.00,426.10 L113.50,425.69 L114.00,425.27 L114.50,424.84 L115.00,424.39 L115.50,423.94 L116.00,423.47 L116.50,422.98 L117.00,422.49 L117.50,421.99 L118.00,421.48 L118.50,420.96 L119.00,420.44 L119.50,419.91 L120.00,419.37 L120.50,418.84 L121.00,418.30 L121.50,417.76 L122.00,417.22 L122.50,416.68 L123.00,416.14 L123.50,415.62 L124.00,415.10 L124.50,414.58 L125.00,414.08 L125.50,413.59 L126.00,413.11 L126.50,412.65 L127.00,412.20 L127.50,411.78 L128.00,411.37 L128.50,410.98 L129.00,410.62 L129.50,410.28 L130.00,409.96 L130.50,409.67 L131.00,409.41 L131.50,409.18 L132.00,408.97 L132.50,408.80 L133.00,408.66 L133.50,408.54 L134.00,408.46 L134.50,408.42 L135.00,408.40 L135.50,408.42 L136.00,408.46 L136.50,408.54 L137.00,408.66 L137.50,408.80 L138.00,408.97 L138.50,409.18 L139.00,409.41 L139.50,409.67 L140.00,409.96 L140.50,410.28 L141.00,410.62 L141.50,410.98 L142.00,411.37 L142.50,411.78 L143.00,412.20 L143.50,412.65 L144.00,413.11 L144.50,413.59 L145.00,414.08 L145.50,414.58 L146.00,415.10 L146.50,415.62 L147.00,416.14 L147.50,416.68 L148.00,417.22 L148.50,417.76 L149.00,418.30 L149.50,418.84 L150.00,419.37 L150.50,419.91 L151.00,420.44 L151.50,420.96 L152.00,421.48 L152.50,421.99 L153.00,422.49 L153.50,422.98 L154.00,423.47 L154.50,423.94 L155.00,424.39 L155.50,424.84 L156.00,425.27 L156.50,425.69 L157.00,426.10 L157.50,426.49 L158.00,426.87 L158.50,427.23 L159.00,427.58 L159.50,427.91 L160.00,428.23 L160.50,428.54 L161.00,428.83 L161.50,429.11 L162.00,429.37 L162.50,429.62 L163.00,429.86 L163.50,430.08 L164.00,430.30 L164.50,430.50 L165.00,430.68 L165.50,430.86 L166.00,431.03 L166.50,431.18 L167.00,431.33 L167.50,431.46 L168.00,431.59 L168.50,431.71 L169.00,431.82 L169.50,431.92 L170.00,432.01 L170.50,432.10 L171.00,432.18 L171.50,432.26 L172.00,432.32 L172.50,432.39 L173.00,432.44 L173.50,432.50 L174.00,432.55 L174.50,432.59 L175.00,432.63 L175.50,432.67 L176.00,432.70 L176.50,432.73 L177.00,432.76 L177.50,432.79 L178.00,432.81 L178.50,432.83 L179.00,432.85 L179.50,432.86 L180.00,432.88 L180.00,433.00 L92.00,433.00 Z" fill="url(#g14)"/>
<path d="M95.50,432.59 L96.00,432.55 L96.50,432.50 L97.00,432.44 L97.50,432.39 L98.00,432.32 L98.50,432.26 L99.00,432.18 L99.50,432.10 L100.00,432.01 L100.50,431.92 L101.00,431.82 L101.50,431.71 L102.00,431.59 L102.50,431.46 L103.00,431.33 L103.50,431.18 L104.00,431.03 L104.50,430.86 L105.00,430.68 L105.50,430.50 L106.00,430.30 L106.50,430.08 L107.00,429.86 L107.50,429.62 L108.00,429.37 L108.50,429.11 L109.00,428.83 L109.50,428.54 L110.00,428.23 L110.50,427.91 L111.00,427.58 L111.50,427.23 L112.00,426.87 L112.50,426.49 L113.00,426.10 L113.50,425.69 L114.00,425.27 L114.50,424.84 L115.00,424.39 L115.50,423.94 L116.00,423.47 L116.50,422.98 L117.00,422.49 L117.50,421.99 L118.00,421.48 L118.50,420.96 L119.00,420.44 L119.50,419.91 L120.00,419.37 L120.50,418.84 L121.00,418.30 L121.50,417.76 L122.00,417.22 L122.50,416.68 L123.00,416.14 L123.50,415.62 L124.00,415.10 L124.50,414.58 L125.00,414.08 L125.50,413.59 L126.00,413.11 L126.50,412.65 L127.00,412.20 L127.50,411.78 L128.00,411.37 L128.50,410.98 L129.00,410.62 L129.50,410.28 L130.00,409.96 L130.50,409.67 L131.00,409.41 L131.50,409.18 L132.00,408.97 L132.50,408.80 L133.00,408.66 L133.50,408.54 L134.00,408.46 L134.50,408.42 L135.00,408.40 L135.50,408.42 L136.00,408.46 L136.50,408.54 L137.00,408.66 L137.50,408.80 L138.00,408.97 L138.50,409.18 L139.00,409.41 L139.50,409.67 L140.00,409.96 L140.50,410.28 L141.00,410.62 L141.50,410.98 L142.00,411.37 L142.50,411.78 L143.00,412.20 L143.50,412.65 L144.00,413.11 L144.50,413.59 L145.00,414.08 L145.50,414.58 L146.00,415.10 L146.50,415.62 L147.00,416.14 L147.50,416.68 L148.00,417.22 L148.50,417.76 L149.00,418.30 L149.50,418.84 L150.00,419.37 L150.50,419.91 L151.00,420.44 L151.50,420.96 L152.00,421.48 L152.50,421.99 L153.00,422.49 L153.50,422.98 L154.00,423.47 L154.50,423.94 L155.00,424.39 L155.50,424.84 L156.00,425.27 L156.50,425.69 L157.00,426.10 L157.50,426.49 L158.00,426.87 L158.50,427.23 L159.00,427.58 L159.50,427.91 L160.00,428.23 L160.50,428.54 L161.00,428.83 L161.50,429.11 L162.00,429.37 L162.50,429.62 L163.00,429.86 L163.50,430.08 L164.00,430.30 L164.50,430.50 L165.00,430.68 L165.50,430.86 L166.00,431.03 L166.50,431.18 L167.00,431.33 L167.50,431.46 L168.00,431.59 L168.50,431.71 L169.00,431.82 L169.50,431.92 L170.00,432.01 L170.50,432.10 L171.00,432.18 L171.50,432.26 L172.00,432.32 L172.50,432.39 L173.00,432.44 L173.50,432.50 L174.00,432.55 L174.50,432.59" fill="none" stroke="#00dcf2" stroke-width="1.40" stroke-opacity="1.00" stroke-linejoin="round"/>
<path d="M70.00,433.20 L269.00,433.20" fill="none" stroke="#c58be8" stroke-width="1.3"/>
<path d="M16.60,433.80 C22.17,433.77 41.18,433.85 50.00,433.60 C58.82,433.35 63.67,432.97 69.50,432.30 C75.33,431.63 81.58,430.40 85.00,429.60 C88.42,428.80 88.17,428.40 90.00,427.50 C91.83,426.60 93.73,425.67 96.00,424.20 C98.27,422.73 100.75,421.55 103.60,418.70 C106.45,415.85 110.62,410.35 113.10,407.10 C115.58,403.85 116.68,401.92 118.50,399.20 C120.32,396.48 122.38,393.30 124.00,390.80 C125.62,388.30 126.85,386.20 128.20,384.20 C129.55,382.20 130.80,380.23 132.10,378.80 C133.40,377.37 134.68,376.37 136.00,375.60 C137.32,374.83 138.50,374.27 140.00,374.20 C141.50,374.13 143.48,374.77 145.00,375.20 C146.52,375.63 147.13,375.17 149.10,376.80 C151.07,378.43 154.42,382.18 156.80,385.00 C159.18,387.82 161.22,390.62 163.40,393.70 C165.58,396.78 167.72,400.22 169.90,403.50 C172.08,406.78 174.32,410.30 176.50,413.40 C178.68,416.50 180.83,419.75 183.00,422.10 C185.17,424.45 187.50,426.23 189.50,427.50 C191.50,428.77 192.42,428.82 195.00,429.70 C197.58,430.58 200.83,432.12 205.00,432.80 C209.17,433.48 209.27,433.50 220.00,433.80 C230.73,434.10 261.17,434.47 269.40,434.60" fill="none" stroke="#d69a26" stroke-width="1.3"/>
<text x="19.18" y="427.40" font-size="7.39" font-weight="bold" fill="#111" font-family="Liberation Sans, sans-serif" textLength="68.63" lengthAdjust="spacingAndGlyphs" stroke="#111" stroke-width="0.30" stroke-linejoin="round">EVA/ATH/PhVPOSS</text>
<text x="43.93" y="414.10" font-size="8.12" font-weight="normal" fill="#ff72c2" font-family="Liberation Sans, sans-serif" textLength="32.15" lengthAdjust="spacingAndGlyphs" stroke="#ff72c2" stroke-width="0.35" stroke-linejoin="round">C=O/Si-O</text>
<line x1="76.80" y1="413.50" x2="102.58" y2="419.15" stroke="#222" stroke-width="0.90"/>
<path d="M106.00,419.90 L101.22,420.69 L101.99,417.18 Z" fill="#222"/>
<text x="81.22" y="403.70" font-size="8.12" font-weight="normal" fill="#08d8f0" font-family="Liberation Sans, sans-serif" textLength="13.99" lengthAdjust="spacingAndGlyphs" stroke="#08d8f0" stroke-width="0.35" stroke-linejoin="round">C-O</text>
<line x1="96.80" y1="403.70" x2="122.97" y2="409.00" stroke="#222" stroke-width="0.90"/>
<path d="M126.40,409.70 L121.63,410.57 L122.35,407.04 Z" fill="#222"/>
<text x="91.60" y="387.70" font-size="7.83" font-weight="normal" fill="#2edc62" font-family="Liberation Sans, sans-serif" textLength="14.46" lengthAdjust="spacingAndGlyphs" stroke="#2edc62" stroke-width="0.35" stroke-linejoin="round">Al-O</text>
<line x1="107.70" y1="387.70" x2="144.08" y2="395.65" stroke="#222" stroke-width="0.90"/>
<path d="M147.50,396.40 L142.72,397.20 L143.49,393.68 Z" fill="#222"/>
<rect x="292.70" y="243.80" width="250.90" height="198.80" fill="none" stroke="#161616" stroke-width="1.50"/>
<line x1="292.70" y1="442.60" x2="292.70" y2="446.10" stroke="#161616" stroke-width="1.20"/>
<line x1="331.30" y1="442.60" x2="331.30" y2="446.10" stroke="#161616" stroke-width="1.20"/>
<line x1="369.90" y1="442.60" x2="369.90" y2="446.10" stroke="#161616" stroke-width="1.20"/>
<line x1="408.50" y1="442.60" x2="408.50" y2="446.10" stroke="#161616" stroke-width="1.20"/>
<line x1="447.10" y1="442.60" x2="447.10" y2="446.10" stroke="#161616" stroke-width="1.20"/>
<line x1="485.70" y1="442.60" x2="485.70" y2="446.10" stroke="#161616" stroke-width="1.20"/>
<line x1="524.30" y1="442.60" x2="524.30" y2="446.10" stroke="#161616" stroke-width="1.20"/>
<line x1="312.00" y1="442.60" x2="312.00" y2="444.60" stroke="#161616" stroke-width="1.20"/>
<line x1="350.60" y1="442.60" x2="350.60" y2="444.60" stroke="#161616" stroke-width="1.20"/>
<line x1="389.20" y1="442.60" x2="389.20" y2="444.60" stroke="#161616" stroke-width="1.20"/>
<line x1="427.80" y1="442.60" x2="427.80" y2="444.60" stroke="#161616" stroke-width="1.20"/>
<line x1="466.40" y1="442.60" x2="466.40" y2="444.60" stroke="#161616" stroke-width="1.20"/>
<line x1="505.00" y1="442.60" x2="505.00" y2="444.60" stroke="#161616" stroke-width="1.20"/>
<text x="284.13" y="458.30" font-size="9.60" font-weight="bold" fill="#111" font-family="Liberation Sans, sans-serif" textLength="16.82" lengthAdjust="spacingAndGlyphs" stroke="#111" stroke-width="0.35">108</text>
<text x="322.78" y="458.30" font-size="9.60" font-weight="bold" fill="#111" font-family="Liberation Sans, sans-serif" textLength="16.82" lengthAdjust="spacingAndGlyphs" stroke="#111" stroke-width="0.35">106</text>
<text x="361.23" y="458.30" font-size="9.60" font-weight="bold" fill="#111" font-family="Liberation Sans, sans-serif" textLength="16.82" lengthAdjust="spacingAndGlyphs" stroke="#111" stroke-width="0.35">104</text>
<text x="399.98" y="458.30" font-size="9.60" font-weight="bold" fill="#111" font-family="Liberation Sans, sans-serif" textLength="16.82" lengthAdjust="spacingAndGlyphs" stroke="#111" stroke-width="0.35">102</text>
<text x="438.58" y="458.30" font-size="9.60" font-weight="bold" fill="#111" font-family="Liberation Sans, sans-serif" textLength="16.82" lengthAdjust="spacingAndGlyphs" stroke="#111" stroke-width="0.35">100</text>
<text x="480.06" y="458.30" font-size="9.60" font-weight="bold" fill="#111" font-family="Liberation Sans, sans-serif" textLength="11.21" lengthAdjust="spacingAndGlyphs" stroke="#111" stroke-width="0.35">98</text>
<text x="518.71" y="458.30" font-size="9.60" font-weight="bold" fill="#111" font-family="Liberation Sans, sans-serif" textLength="11.21" lengthAdjust="spacingAndGlyphs" stroke="#111" stroke-width="0.35">96</text>
<text x="368.57" y="471.30" font-size="10.20" font-weight="bold" fill="#111" font-family="Liberation Sans, sans-serif" textLength="100.22" lengthAdjust="spacingAndGlyphs" stroke="#111" stroke-width="0.35" stroke-linejoin="round">Binding Energy (eV)</text>
<text x="0" y="0" transform="translate(283.80,377.40) rotate(-90)" font-size="9.60" font-weight="bold" fill="#111" font-family="Liberation Sans, sans-serif" textLength="69.21" lengthAdjust="spacingAndGlyphs" stroke="#111" stroke-width="0.30" dx="-0.71">intensity (a.u.)</text>
<text x="305.12" y="268.92" font-size="17.98" font-weight="bold" fill="#111" font-family="Liberation Sans, sans-serif" textLength="25.10" lengthAdjust="spacingAndGlyphs" stroke="#111" stroke-width="0.20">(d)</text>
<text x="497.73" y="268.60" font-size="17.30" font-weight="normal" fill="#111" font-family="Liberation Sans, sans-serif" textLength="39.65" lengthAdjust="spacingAndGlyphs" stroke="#111" stroke-width="0.20" stroke-linejoin="round">Si 2p</text>
<path d="M345.00,414.23 L345.50,414.15 L346.00,414.07 L346.50,413.99 L347.00,413.91 L347.50,413.82 L348.00,413.73 L348.50,413.63 L349.00,413.53 L349.50,413.42 L350.00,413.31 L350.50,413.20 L351.00,413.07 L351.50,412.95 L352.00,412.81 L352.50,412.67 L353.00,412.52 L353.50,412.36 L354.00,412.19 L354.50,412.02 L355.00,411.83 L355.50,411.64 L356.00,411.43 L356.50,411.22 L357.00,410.99 L357.50,410.74 L358.00,410.49 L358.50,410.22 L359.00,409.93 L359.50,409.63 L360.00,409.32 L360.50,408.98 L361.00,408.63 L361.50,408.26 L362.00,407.88 L362.50,407.47 L363.00,407.04 L363.50,406.59 L364.00,406.11 L364.50,405.61 L365.00,405.09 L365.50,404.55 L366.00,403.97 L366.50,403.37 L367.00,402.75 L367.50,402.10 L368.00,401.41 L368.50,400.70 L369.00,399.96 L369.50,399.19 L370.00,398.39 L370.50,397.55 L371.00,396.69 L371.50,395.79 L372.00,394.86 L372.50,393.90 L373.00,392.90 L373.50,391.87 L374.00,390.81 L374.50,389.71 L375.00,388.59 L375.50,387.43 L376.00,386.23 L376.50,385.01 L377.00,383.75 L377.50,382.47 L378.00,381.15 L378.50,379.81 L379.00,378.44 L379.50,377.04 L380.00,375.61 L380.50,374.16 L381.00,372.69 L381.50,371.20 L382.00,369.68 L382.50,368.15 L383.00,366.61 L383.50,365.04 L384.00,363.47 L384.50,361.89 L385.00,360.30 L385.50,358.70 L386.00,357.11 L386.50,355.51 L387.00,353.91 L387.50,352.32 L388.00,350.74 L388.50,349.17 L389.00,347.61 L389.50,346.07 L390.00,344.55 L390.50,343.05 L391.00,341.58 L391.50,340.14 L392.00,338.72 L392.50,337.35 L393.00,336.00 L393.50,334.70 L394.00,333.44 L394.50,332.23 L395.00,331.07 L395.50,329.95 L396.00,328.89 L396.50,327.89 L397.00,326.94 L397.50,326.05 L398.00,325.23 L398.50,324.47 L399.00,323.77 L399.50,323.14 L400.00,322.58 L400.50,322.09 L401.00,321.67 L401.50,321.33 L402.00,321.05 L402.50,320.85 L403.00,320.73 L403.50,320.68 L404.00,320.70 L404.50,320.79 L405.00,320.96 L405.50,321.20 L406.00,321.52 L406.50,321.90 L407.00,322.36 L407.50,322.88 L408.00,323.48 L408.50,324.13 L409.00,324.86 L409.50,325.64 L410.00,326.49 L410.50,327.39 L411.00,328.35 L411.50,329.36 L412.00,330.43 L412.50,331.54 L413.00,332.70 L413.50,333.91 L414.00,335.15 L414.50,336.43 L415.00,337.75 L415.50,339.10 L416.00,340.47 L416.50,341.88 L417.00,343.30 L417.50,344.75 L418.00,346.21 L418.50,347.69 L419.00,349.18 L419.50,350.68 L420.00,352.18 L420.50,353.69 L421.00,355.20 L421.50,356.71 L422.00,358.21 L422.50,359.70 L423.00,361.19 L423.50,362.66 L424.00,364.12 L424.50,365.56 L425.00,366.99 L425.50,368.40 L426.00,369.79 L426.50,371.15 L427.00,372.49 L427.50,373.81 L428.00,375.09 L428.50,376.35 L429.00,377.59 L429.50,378.79 L430.00,379.96 L430.50,381.10 L431.00,382.21 L431.50,383.28 L432.00,384.33 L432.50,385.34 L433.00,386.32 L433.50,387.27 L434.00,388.18 L434.50,389.06 L435.00,389.90 L435.50,390.72 L436.00,391.50 L436.50,392.25 L437.00,392.97 L437.50,393.66 L438.00,394.31 L438.50,394.94 L439.00,395.54 L439.50,396.11 L440.00,396.65 L440.50,397.16 L441.00,397.65 L441.50,398.11 L442.00,398.55 L442.50,398.96 L443.00,399.35 L443.50,399.72 L444.00,400.06 L444.50,400.38 L445.00,400.69 L445.50,400.97 L446.00,401.23 L446.50,401.48 L447.00,401.71 L447.50,401.92 L448.00,402.12 L448.50,402.30 L449.00,402.47 L449.50,402.63 L450.00,402.77 L450.50,402.90 L451.00,403.02 L451.50,403.13 L452.00,403.22 L452.50,403.31 L453.00,403.39 L453.50,403.46 L454.00,403.52 L454.50,403.57 L455.00,403.62 L455.00,404.64 L345.00,414.53 Z" fill="url(#g15)"/>
<path d="M345.00,414.23 L345.50,414.15 L346.00,414.07 L346.50,413.99 L347.00,413.91 L347.50,413.82 L348.00,413.73 L348.50,413.63 L349.00,413.53 L349.50,413.42 L350.00,413.31 L350.50,413.20 L351.00,413.07 L351.50,412.95 L352.00,412.81 L352.50,412.67 L353.00,412.52 L353.50,412.36 L354.00,412.19 L354.50,412.02 L355.00,411.83 L355.50,411.64 L356.00,411.43 L356.50,411.22 L357.00,410.99 L357.50,410.74 L358.00,410.49 L358.50,410.22 L359.00,409.93 L359.50,409.63 L360.00,409.32 L360.50,408.98 L361.00,408.63 L361.50,408.26 L362.00,407.88 L362.50,407.47 L363.00,407.04 L363.50,406.59 L364.00,406.11 L364.50,405.61 L365.00,405.09 L365.50,404.55 L366.00,403.97 L366.50,403.37 L367.00,402.75 L367.50,402.10 L368.00,401.41 L368.50,400.70 L369.00,399.96 L369.50,399.19 L370.00,398.39 L370.50,397.55 L371.00,396.69 L371.50,395.79 L372.00,394.86 L372.50,393.90 L373.00,392.90 L373.50,391.87 L374.00,390.81 L374.50,389.71 L375.00,388.59 L375.50,387.43 L376.00,386.23 L376.50,385.01 L377.00,383.75 L377.50,382.47 L378.00,381.15 L378.50,379.81 L379.00,378.44 L379.50,377.04 L380.00,375.61 L380.50,374.16 L381.00,372.69 L381.50,371.20 L382.00,369.68 L382.50,368.15 L383.00,366.61 L383.50,365.04 L384.00,363.47 L384.50,361.89 L385.00,360.30 L385.50,358.70 L386.00,357.11 L386.50,355.51 L387.00,353.91 L387.50,352.32 L388.00,350.74 L388.50,349.17 L389.00,347.61 L389.50,346.07 L390.00,344.55 L390.50,343.05 L391.00,341.58 L391.50,340.14 L392.00,338.72 L392.50,337.35 L393.00,336.00 L393.50,334.70 L394.00,333.44 L394.50,332.23 L395.00,331.07 L395.50,329.95 L396.00,328.89 L396.50,327.89 L397.00,326.94 L397.50,326.05 L398.00,325.23 L398.50,324.47 L399.00,323.77 L399.50,323.14 L400.00,322.58 L400.50,322.09 L401.00,321.67 L401.50,321.33 L402.00,321.05 L402.50,320.85 L403.00,320.73 L403.50,320.68 L404.00,320.70 L404.50,320.79 L405.00,320.96 L405.50,321.20 L406.00,321.52 L406.50,321.90 L407.00,322.36 L407.50,322.88 L408.00,323.48 L408.50,324.13 L409.00,324.86 L409.50,325.64 L410.00,326.49 L410.50,327.39 L411.00,328.35 L411.50,329.36 L412.00,330.43 L412.50,331.54 L413.00,332.70 L413.50,333.91 L414.00,335.15 L414.50,336.43 L415.00,337.75 L415.50,339.10 L416.00,340.47 L416.50,341.88 L417.00,343.30 L417.50,344.75 L418.00,346.21 L418.50,347.69 L419.00,349.18 L419.50,350.68 L420.00,352.18 L420.50,353.69 L421.00,355.20 L421.50,356.71 L422.00,358.21 L422.50,359.70 L423.00,361.19 L423.50,362.66 L424.00,364.12 L424.50,365.56 L425.00,366.99 L425.50,368.40 L426.00,369.79 L426.50,371.15 L427.00,372.49 L427.50,373.81 L428.00,375.09 L428.50,376.35 L429.00,377.59 L429.50,378.79 L430.00,379.96 L430.50,381.10 L431.00,382.21 L431.50,383.28 L432.00,384.33 L432.50,385.34 L433.00,386.32 L433.50,387.27 L434.00,388.18 L434.50,389.06 L435.00,389.90 L435.50,390.72 L436.00,391.50 L436.50,392.25 L437.00,392.97 L437.50,393.66 L438.00,394.31 L438.50,394.94 L439.00,395.54 L439.50,396.11 L440.00,396.65 L440.50,397.16 L441.00,397.65 L441.50,398.11 L442.00,398.55 L442.50,398.96 L443.00,399.35 L443.50,399.72 L444.00,400.06 L444.50,400.38 L445.00,400.69 L445.50,400.97 L446.00,401.23 L446.50,401.48 L447.00,401.71 L447.50,401.92 L448.00,402.12 L448.50,402.30 L449.00,402.47 L449.50,402.63 L450.00,402.77 L450.50,402.90 L451.00,403.02 L451.50,403.13 L452.00,403.22 L452.50,403.31 L453.00,403.39 L453.50,403.46 L454.00,403.52 L454.50,403.57 L455.00,403.62" fill="none" stroke="#00e0f0" stroke-width="1.60" stroke-opacity="1.00" stroke-linejoin="round"/>
<path d="M335.00,413.90 L335.50,413.72 L336.00,413.53 L336.50,413.33 L337.00,413.12 L337.50,412.89 L338.00,412.65 L338.50,412.40 L339.00,412.13 L339.50,411.85 L340.00,411.55 L340.50,411.24 L341.00,410.91 L341.50,410.56 L342.00,410.19 L342.50,409.79 L343.00,409.38 L343.50,408.95 L344.00,408.49 L344.50,408.01 L345.00,407.51 L345.50,406.98 L346.00,406.42 L346.50,405.83 L347.00,405.22 L347.50,404.58 L348.00,403.91 L348.50,403.21 L349.00,402.47 L349.50,401.71 L350.00,400.91 L350.50,400.07 L351.00,399.21 L351.50,398.31 L352.00,397.37 L352.50,396.40 L353.00,395.40 L353.50,394.36 L354.00,393.28 L354.50,392.17 L355.00,391.02 L355.50,389.83 L356.00,388.61 L356.50,387.36 L357.00,386.07 L357.50,384.74 L358.00,383.39 L358.50,382.00 L359.00,380.58 L359.50,379.13 L360.00,377.65 L360.50,376.15 L361.00,374.61 L361.50,373.06 L362.00,371.48 L362.50,369.88 L363.00,368.26 L363.50,366.62 L364.00,364.97 L364.50,363.31 L365.00,361.64 L365.50,359.97 L366.00,358.29 L366.50,356.60 L367.00,354.92 L367.50,353.25 L368.00,351.58 L368.50,349.92 L369.00,348.28 L369.50,346.65 L370.00,345.05 L370.50,343.47 L371.00,341.92 L371.50,340.39 L372.00,338.90 L372.50,337.45 L373.00,336.04 L373.50,334.67 L374.00,333.35 L374.50,332.08 L375.00,330.86 L375.50,329.69 L376.00,328.58 L376.50,327.54 L377.00,326.56 L377.50,325.64 L378.00,324.79 L378.50,324.01 L379.00,323.31 L379.50,322.68 L380.00,322.12 L380.50,321.64 L381.00,321.23 L381.50,320.91 L382.00,320.66 L382.50,320.50 L383.00,320.41 L383.50,320.41 L384.00,320.48 L384.50,320.64 L385.00,320.87 L385.50,321.19 L386.00,321.58 L386.50,322.05 L387.00,322.59 L387.50,323.21 L388.00,323.89 L388.50,324.65 L389.00,325.48 L389.50,326.37 L390.00,327.33 L390.50,328.34 L391.00,329.42 L391.50,330.55 L392.00,331.73 L392.50,332.96 L393.00,334.24 L393.50,335.56 L394.00,336.92 L394.50,338.32 L395.00,339.76 L395.50,341.22 L396.00,342.71 L396.50,344.23 L397.00,345.76 L397.50,347.31 L398.00,348.88 L398.50,350.46 L399.00,352.04 L399.50,353.64 L400.00,355.23 L400.50,356.82 L401.00,358.41 L401.50,359.99 L402.00,361.56 L402.50,363.12 L403.00,364.66 L403.50,366.19 L404.00,367.70 L404.50,369.19 L405.00,370.66 L405.50,372.10 L406.00,373.51 L406.50,374.90 L407.00,376.26 L407.50,377.59 L408.00,378.89 L408.50,380.16 L409.00,381.39 L409.50,382.59 L410.00,383.75 L410.50,384.88 L411.00,385.98 L411.50,387.04 L412.00,388.06 L412.50,389.05 L413.00,390.00 L413.50,390.92 L414.00,391.80 L414.50,392.64 L415.00,393.45 L415.50,394.23 L416.00,394.97 L416.50,395.68 L417.00,396.36 L417.50,397.00 L418.00,397.61 L418.50,398.19 L419.00,398.75 L419.50,399.27 L420.00,399.76 L420.50,400.23 L421.00,400.67 L421.50,401.09 L422.00,401.48 L422.50,401.84 L423.00,402.19 L423.50,402.51 L424.00,402.81 L424.50,403.09 L425.00,403.35 L425.50,403.59 L426.00,403.82 L426.50,404.03 L427.00,404.22 L427.50,404.39 L428.00,404.56 L428.50,404.71 L429.00,404.84 L429.50,404.96 L430.00,405.08 L430.50,405.18 L431.00,405.27 L431.50,405.35 L432.00,405.42 L432.50,405.48 L433.00,405.53 L433.50,405.58 L434.00,405.62 L434.50,405.66 L435.00,405.68 L435.50,405.70 L436.00,405.72 L436.50,405.73 L437.00,405.74 L437.50,405.74 L438.00,405.74 L438.50,405.74 L439.00,405.73 L439.50,405.71 L440.00,405.70 L440.50,405.68 L441.00,405.66 L441.50,405.64 L442.00,405.62 L442.50,405.59 L443.00,405.56 L443.50,405.53 L444.00,405.50 L444.50,405.47 L445.00,405.44 L445.50,405.40 L446.00,405.37 L446.50,405.33 L447.00,405.29 L447.50,405.26 L448.00,405.22 L448.50,405.18 L449.00,405.14 L449.50,405.10 L450.00,405.06 L450.00,405.09 L335.00,415.43 Z" fill="url(#g16)"/>
<path d="M335.00,413.90 L335.50,413.72 L336.00,413.53 L336.50,413.33 L337.00,413.12 L337.50,412.89 L338.00,412.65 L338.50,412.40 L339.00,412.13 L339.50,411.85 L340.00,411.55 L340.50,411.24 L341.00,410.91 L341.50,410.56 L342.00,410.19 L342.50,409.79 L343.00,409.38 L343.50,408.95 L344.00,408.49 L344.50,408.01 L345.00,407.51 L345.50,406.98 L346.00,406.42 L346.50,405.83 L347.00,405.22 L347.50,404.58 L348.00,403.91 L348.50,403.21 L349.00,402.47 L349.50,401.71 L350.00,400.91 L350.50,400.07 L351.00,399.21 L351.50,398.31 L352.00,397.37 L352.50,396.40 L353.00,395.40 L353.50,394.36 L354.00,393.28 L354.50,392.17 L355.00,391.02 L355.50,389.83 L356.00,388.61 L356.50,387.36 L357.00,386.07 L357.50,384.74 L358.00,383.39 L358.50,382.00 L359.00,380.58 L359.50,379.13 L360.00,377.65 L360.50,376.15 L361.00,374.61 L361.50,373.06 L362.00,371.48 L362.50,369.88 L363.00,368.26 L363.50,366.62 L364.00,364.97 L364.50,363.31 L365.00,361.64 L365.50,359.97 L366.00,358.29 L366.50,356.60 L367.00,354.92 L367.50,353.25 L368.00,351.58 L368.50,349.92 L369.00,348.28 L369.50,346.65 L370.00,345.05 L370.50,343.47 L371.00,341.92 L371.50,340.39 L372.00,338.90 L372.50,337.45 L373.00,336.04 L373.50,334.67 L374.00,333.35 L374.50,332.08 L375.00,330.86 L375.50,329.69 L376.00,328.58 L376.50,327.54 L377.00,326.56 L377.50,325.64 L378.00,324.79 L378.50,324.01 L379.00,323.31 L379.50,322.68 L380.00,322.12 L380.50,321.64 L381.00,321.23 L381.50,320.91 L382.00,320.66 L382.50,320.50 L383.00,320.41 L383.50,320.41 L384.00,320.48 L384.50,320.64 L385.00,320.87 L385.50,321.19 L386.00,321.58 L386.50,322.05 L387.00,322.59 L387.50,323.21 L388.00,323.89 L388.50,324.65 L389.00,325.48 L389.50,326.37 L390.00,327.33 L390.50,328.34 L391.00,329.42 L391.50,330.55 L392.00,331.73 L392.50,332.96 L393.00,334.24 L393.50,335.56 L394.00,336.92 L394.50,338.32 L395.00,339.76 L395.50,341.22 L396.00,342.71 L396.50,344.23 L397.00,345.76 L397.50,347.31 L398.00,348.88 L398.50,350.46 L399.00,352.04 L399.50,353.64 L400.00,355.23 L400.50,356.82 L401.00,358.41 L401.50,359.99 L402.00,361.56 L402.50,363.12 L403.00,364.66 L403.50,366.19 L404.00,367.70 L404.50,369.19 L405.00,370.66 L405.50,372.10 L406.00,373.51 L406.50,374.90 L407.00,376.26 L407.50,377.59 L408.00,378.89 L408.50,380.16 L409.00,381.39 L409.50,382.59 L410.00,383.75 L410.50,384.88 L411.00,385.98 L411.50,387.04 L412.00,388.06 L412.50,389.05 L413.00,390.00 L413.50,390.92 L414.00,391.80 L414.50,392.64 L415.00,393.45 L415.50,394.23 L416.00,394.97 L416.50,395.68 L417.00,396.36 L417.50,397.00 L418.00,397.61 L418.50,398.19 L419.00,398.75 L419.50,399.27 L420.00,399.76 L420.50,400.23 L421.00,400.67 L421.50,401.09 L422.00,401.48 L422.50,401.84 L423.00,402.19 L423.50,402.51 L424.00,402.81 L424.50,403.09 L425.00,403.35 L425.50,403.59 L426.00,403.82 L426.50,404.03 L427.00,404.22 L427.50,404.39 L428.00,404.56 L428.50,404.71 L429.00,404.84 L429.50,404.96 L430.00,405.08 L430.50,405.18 L431.00,405.27 L431.50,405.35 L432.00,405.42 L432.50,405.48 L433.00,405.53 L433.50,405.58 L434.00,405.62 L434.50,405.66 L435.00,405.68 L435.50,405.70 L436.00,405.72 L436.50,405.73 L437.00,405.74 L437.50,405.74 L438.00,405.74 L438.50,405.74 L439.00,405.73 L439.50,405.71" fill="none" stroke="#ff6ec4" stroke-width="1.40" stroke-opacity="1.00" stroke-linejoin="round"/>
<line x1="330.9" y1="415.8" x2="453.2" y2="404.8" stroke="#1faa78" stroke-width="1.6"/>
<path d="M386.00,268.50 L388.00,266.00 L390.50,262.50 L393.50,260.20 L395.50,262.00 L397.50,265.50 L399.00,267.50 L400.50,268.00 L402.00,272.00" fill="none" stroke="#555" stroke-width="1.0" stroke-linejoin="round"/>
<path d="M381.00,280.50 L382.50,277.00 L384.50,273.00" fill="none" stroke="#555" stroke-width="1.0" stroke-linejoin="round"/>
<path d="M426.00,367.50 L427.50,372.00 L428.20,377.00" fill="none" stroke="#555" stroke-width="1.0" stroke-linejoin="round"/>
<path d="M430.50,384.00 L432.00,388.50" fill="none" stroke="#555" stroke-width="1.0" stroke-linejoin="round"/>
<path d="M321.50,415.50 L323.60,415.90 L326.90,413.20 L330.20,417.00 L333.00,416.00" fill="none" stroke="#555" stroke-width="1.0" stroke-linejoin="round"/>
<path d="M338.50,412.50 L341.10,409.90" fill="none" stroke="#555" stroke-width="1.0" stroke-linejoin="round"/>
<path d="M293.10,413.70 C293.65,414.07 295.22,415.98 296.40,415.90 C297.58,415.82 298.93,413.20 300.20,413.20 C301.47,413.20 302.63,415.53 304.00,415.90 C305.37,416.27 307.03,415.48 308.40,415.40 C309.77,415.32 311.02,414.95 312.20,415.40 C313.38,415.85 314.32,418.20 315.50,418.10 C316.68,418.00 317.95,415.43 319.30,414.80 C320.65,414.17 321.97,414.20 323.60,414.30 C325.23,414.40 327.45,415.32 329.10,415.40 C330.75,415.48 331.87,415.27 333.50,414.80 C335.13,414.33 337.08,413.50 338.90,412.60 C340.72,411.70 342.73,410.83 344.40,409.40 C346.07,407.97 346.67,407.72 348.90,404.00 C351.13,400.28 355.13,393.77 357.80,387.10 C360.47,380.43 362.82,372.02 364.90,364.00 C366.98,355.98 368.52,347.92 370.30,339.00 C372.08,330.08 374.35,317.13 375.60,310.50 C376.85,303.87 376.98,303.53 377.80,299.20 C378.62,294.87 379.18,289.22 380.50,284.50 C381.82,279.78 384.20,274.07 385.70,270.90 C387.20,267.73 388.20,266.75 389.50,265.50 C390.80,264.25 392.25,263.32 393.50,263.40 C394.75,263.48 395.87,264.40 397.00,266.00 C398.13,267.60 399.05,269.92 400.30,273.00 C401.55,276.08 403.18,280.13 404.50,284.50 C405.82,288.87 406.58,292.02 408.20,299.20 C409.82,306.38 412.43,319.78 414.20,327.60 C415.97,335.42 417.07,339.57 418.80,346.10 C420.53,352.63 422.68,360.27 424.60,366.80 C426.52,373.33 428.18,379.92 430.30,385.30 C432.42,390.68 434.60,395.73 437.30,399.10 C440.00,402.47 443.88,404.52 446.50,405.50 C449.12,406.48 451.22,405.32 453.00,405.00 C454.78,404.68 455.55,403.03 457.20,403.60 C458.85,404.17 461.32,407.87 462.90,408.40 C464.48,408.93 464.95,407.28 466.70,406.80 C468.45,406.32 471.48,405.40 473.40,405.50 C475.32,405.60 476.77,407.23 478.20,407.40 C479.63,407.57 480.73,407.23 482.00,406.50 C483.27,405.77 484.37,402.53 485.80,403.00 C487.23,403.47 488.68,408.35 490.60,409.30 C492.52,410.25 494.92,409.12 497.30,408.70 C499.68,408.28 502.68,406.70 504.90,406.80 C507.12,406.90 508.68,409.10 510.60,409.30 C512.52,409.50 514.48,407.68 516.40,408.00 C518.32,408.32 520.67,410.35 522.10,411.20 C523.53,412.05 524.05,413.32 525.00,413.10 C525.95,412.88 526.38,410.22 527.80,409.90 C529.22,409.58 531.43,410.50 533.50,411.20 C535.57,411.90 538.52,414.05 540.20,414.10 C541.88,414.15 543.03,411.93 543.60,411.50" fill="none" stroke="#b070e0" stroke-width="1.3"/>
<text x="452.79" y="396.60" font-size="9.00" font-weight="bold" fill="#111" font-family="Liberation Sans, sans-serif" textLength="80.98" lengthAdjust="spacingAndGlyphs" stroke="#111" stroke-width="0.35" stroke-linejoin="round">EVA/ATH/PhVPOSS</text>
<text x="327.47" y="316.50" font-size="11.74" font-weight="normal" fill="#ff72c2" font-family="Liberation Sans, sans-serif" textLength="21.05" lengthAdjust="spacingAndGlyphs" stroke="#ff72c2" stroke-width="0.35" stroke-linejoin="round">Si-O</text>
<line x1="348.70" y1="315.10" x2="371.79" y2="326.08" stroke="#222" stroke-width="1.00"/>
<path d="M375.40,327.80 L370.03,327.46 L371.74,323.85 Z" fill="#222"/>
<text x="447.38" y="307.00" font-size="11.01" font-weight="normal" fill="#08d8f0" font-family="Liberation Sans, sans-serif" textLength="20.18" lengthAdjust="spacingAndGlyphs" stroke="#08d8f0" stroke-width="0.35" stroke-linejoin="round">Si-C</text>
<line x1="444.40" y1="308.70" x2="417.28" y2="324.03" stroke="#222" stroke-width="1.00"/>
<path d="M413.80,326.00 L417.17,321.80 L419.14,325.28 Z" fill="#222"/></svg></body></html>
